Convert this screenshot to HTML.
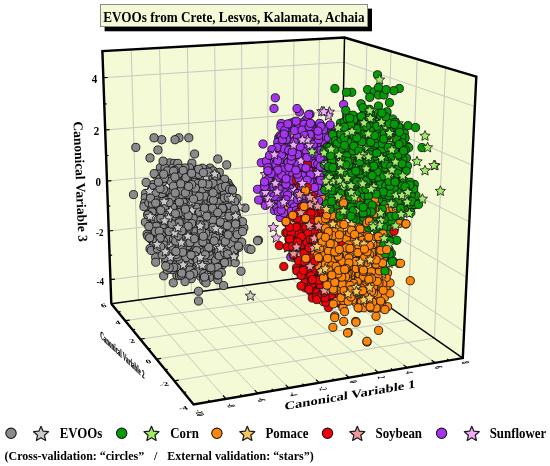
<!DOCTYPE html>
<html><head><meta charset="utf-8"><style>
html,body{margin:0;padding:0;background:#fff;}
svg{display:block;}
text{font-family:"Liberation Serif",serif;font-weight:bold;fill:#000;}
</style></head><body>
<svg width="550" height="466" viewBox="0 0 550 466">
<defs><path id="st" d="M0.00,-5.40 L1.47,-2.02 L5.14,-1.67 L2.38,0.77 L3.17,4.37 L0.00,2.50 L-3.17,4.37 L-2.38,0.77 L-5.14,-1.67 L-1.47,-2.02Z" stroke="#1a1a1a" stroke-width="0.85" stroke-linejoin="round"/></defs>
<rect x="104.6" y="8.6" width="267.4" height="22.7" fill="#000"/>
<rect x="100.5" y="4.5" width="267" height="22" fill="#f4f9d6" stroke="#8a8a8a" stroke-width="1"/>
<text transform="translate(103.2,21.8) scale(1,1.08)" font-size="13.2">EVOOs from Crete, Lesvos, Kalamata, Achaia</text>
<polygon points="102.4,51.1 344.5,37.5 340.1,272.5 111.3,303.7" fill="#f3fad5"/>
<polygon points="344.5,37.5 476.3,76.7 462.8,358.1 340.1,272.5" fill="#f3fad5"/>
<polygon points="111.3,303.7 340.1,272.5 462.8,358.1 193.6,404.5" fill="#f3fad5"/>
<g stroke="#c6c6bf" stroke-width="0.95"><line x1="138.5" y1="300.0" x2="131.2" y2="49.5" /><line x1="138.5" y1="300.0" x2="226.0" y2="398.9" /><line x1="165.2" y1="296.4" x2="159.5" y2="47.9" /><line x1="165.2" y1="296.4" x2="257.8" y2="393.4" /><line x1="191.4" y1="292.8" x2="187.4" y2="46.4" /><line x1="191.4" y1="292.8" x2="288.9" y2="388.0" /><line x1="217.3" y1="289.3" x2="214.7" y2="44.8" /><line x1="217.3" y1="289.3" x2="319.3" y2="382.8" /><line x1="242.7" y1="285.8" x2="241.6" y2="43.3" /><line x1="242.7" y1="285.8" x2="349.2" y2="377.7" /><line x1="267.6" y1="282.4" x2="268.0" y2="41.8" /><line x1="267.6" y1="282.4" x2="378.5" y2="372.6" /><line x1="292.2" y1="279.1" x2="293.9" y2="40.4" /><line x1="292.2" y1="279.1" x2="407.1" y2="367.7" /><line x1="316.4" y1="275.8" x2="319.4" y2="38.9" /><line x1="316.4" y1="275.8" x2="435.3" y2="362.8" /><line x1="110.5" y1="279.7" x2="340.6" y2="250.2" /><line x1="340.6" y1="250.2" x2="464.1" y2="331.5" /><line x1="108.7" y1="231.0" x2="341.4" y2="204.7" /><line x1="341.4" y1="204.7" x2="466.7" y2="277.4" /><line x1="107.0" y1="181.1" x2="342.2" y2="158.2" /><line x1="342.2" y1="158.2" x2="469.4" y2="221.9" /><line x1="105.1" y1="130.0" x2="343.1" y2="110.7" /><line x1="343.1" y1="110.7" x2="472.1" y2="165.0" /><line x1="103.3" y1="77.7" x2="344.0" y2="62.2" /><line x1="344.0" y1="62.2" x2="474.9" y2="106.5" /><line x1="361.2" y1="287.2" x2="366.9" y2="44.2" /><line x1="125.2" y1="320.7" x2="361.2" y2="287.2" /><line x1="383.8" y1="303.0" x2="391.0" y2="51.3" /><line x1="140.3" y1="339.2" x2="383.8" y2="303.0" /><line x1="408.1" y1="319.9" x2="417.1" y2="59.1" /><line x1="156.6" y1="359.1" x2="408.1" y2="319.9" /><line x1="434.4" y1="338.2" x2="445.5" y2="67.5" /><line x1="174.3" y1="380.8" x2="434.4" y2="338.2" /></g>
<g stroke="#000" stroke-width="1.5" stroke-linecap="round"><line x1="344.5" y1="37.5" x2="340.1" y2="272.5" /><line x1="111.3" y1="303.7" x2="340.1" y2="272.5" /><line x1="340.1" y1="272.5" x2="462.8" y2="358.1" /></g>
<polyline points="111.3,303.7 102.4,51.1 344.5,37.5 476.3,76.7 462.8,358.1 193.6,404.5 111.3,303.7" fill="none" stroke="#000" stroke-width="2.4" stroke-linejoin="miter"/>
<g stroke="#000" stroke-width="1.2"><line x1="110.5" y1="279.7" x2="114.9" y2="279.1" /><line x1="109.6" y1="255.5" x2="112.1" y2="255.2" /><line x1="108.7" y1="231.0" x2="113.2" y2="230.5" /><line x1="107.8" y1="206.2" x2="110.3" y2="205.9" /><line x1="107.0" y1="181.1" x2="111.4" y2="180.6" /><line x1="106.1" y1="155.7" x2="108.5" y2="155.5" /><line x1="105.1" y1="130.0" x2="109.6" y2="129.6" /><line x1="104.2" y1="104.0" x2="106.7" y2="103.8" /><line x1="103.3" y1="77.7" x2="107.8" y2="77.5" /><line x1="183.7" y1="392.4" x2="186.2" y2="392.0" /><line x1="174.3" y1="380.8" x2="178.7" y2="380.1" /><line x1="165.2" y1="369.7" x2="167.7" y2="369.3" /><line x1="156.6" y1="359.1" x2="161.0" y2="358.4" /><line x1="148.3" y1="348.9" x2="150.7" y2="348.6" /><line x1="140.3" y1="339.2" x2="144.7" y2="338.5" /><line x1="132.6" y1="329.8" x2="135.1" y2="329.4" /><line x1="125.2" y1="320.7" x2="129.7" y2="320.1" /><line x1="118.1" y1="312.1" x2="120.6" y2="311.7" /><line x1="209.9" y1="401.7" x2="208.3" y2="399.8" /><line x1="226.0" y1="398.9" x2="223.1" y2="395.5" /><line x1="242.0" y1="396.1" x2="240.3" y2="394.3" /><line x1="257.8" y1="393.4" x2="254.7" y2="390.1" /><line x1="273.4" y1="390.7" x2="271.7" y2="388.9" /><line x1="288.9" y1="388.0" x2="285.7" y2="384.9" /><line x1="304.2" y1="385.4" x2="302.4" y2="383.7" /><line x1="319.3" y1="382.8" x2="316.0" y2="379.8" /><line x1="334.4" y1="380.2" x2="332.5" y2="378.6" /><line x1="349.2" y1="377.7" x2="345.8" y2="374.7" /><line x1="363.9" y1="375.1" x2="362.0" y2="373.5" /><line x1="378.5" y1="372.6" x2="375.0" y2="369.8" /><line x1="392.9" y1="370.1" x2="390.9" y2="368.6" /><line x1="407.1" y1="367.7" x2="403.6" y2="364.9" /><line x1="421.3" y1="365.2" x2="419.3" y2="363.7" /><line x1="435.3" y1="362.8" x2="431.6" y2="360.2" /><line x1="449.1" y1="360.4" x2="447.1" y2="359.0" /></g>
<g stroke="#141414" stroke-width="0.9">
<circle cx="231.6" cy="231.0" r="4.1" fill="#8a8a8c"/><circle cx="329.2" cy="162.3" r="4.1" fill="#a434f0"/><circle cx="320.3" cy="197.7" r="4.1" fill="#a434f0"/><circle cx="233.6" cy="250.4" r="4.1" fill="#8a8a8c"/><circle cx="298.9" cy="123.1" r="4.1" fill="#a434f0"/><circle cx="231.6" cy="203.4" r="4.1" fill="#8a8a8c"/><circle cx="165.3" cy="202.2" r="4.1" fill="#8a8a8c"/><circle cx="199.5" cy="220.7" r="4.1" fill="#8a8a8c"/><circle cx="176.7" cy="212.9" r="4.1" fill="#8a8a8c"/><circle cx="172.3" cy="234.7" r="4.1" fill="#8a8a8c"/><circle cx="278.7" cy="137.8" r="4.1" fill="#a434f0"/><circle cx="198.7" cy="273.4" r="4.1" fill="#8a8a8c"/><circle cx="214.2" cy="269.9" r="4.1" fill="#8a8a8c"/><circle cx="229.7" cy="262.0" r="4.1" fill="#8a8a8c"/><circle cx="296.1" cy="197.3" r="4.1" fill="#a434f0"/><circle cx="171.9" cy="236.2" r="4.1" fill="#8a8a8c"/><circle cx="194.2" cy="169.2" r="4.1" fill="#8a8a8c"/><circle cx="327.5" cy="185.5" r="4.1" fill="#a434f0"/><circle cx="301.4" cy="148.2" r="4.1" fill="#a434f0"/><circle cx="275.6" cy="192.6" r="4.1" fill="#a434f0"/><circle cx="237.5" cy="233.0" r="4.1" fill="#8a8a8c"/><circle cx="133.5" cy="194.6" r="4.1" fill="#8a8a8c"/><circle cx="145.2" cy="203.3" r="4.1" fill="#8a8a8c"/><circle cx="287.2" cy="154.8" r="4.1" fill="#a434f0"/><circle cx="192.7" cy="243.1" r="4.1" fill="#8a8a8c"/><circle cx="291.5" cy="132.0" r="4.1" fill="#a434f0"/><circle cx="212.1" cy="223.9" r="4.1" fill="#8a8a8c"/><circle cx="278.7" cy="202.9" r="4.1" fill="#a434f0"/><circle cx="149.2" cy="217.4" r="4.1" fill="#8a8a8c"/><circle cx="293.7" cy="144.0" r="4.1" fill="#a434f0"/><circle cx="306.9" cy="121.2" r="4.1" fill="#a434f0"/><circle cx="191.5" cy="187.7" r="4.1" fill="#8a8a8c"/><circle cx="184.9" cy="176.4" r="4.1" fill="#8a8a8c"/><circle cx="234.3" cy="227.7" r="4.1" fill="#8a8a8c"/><circle cx="192.9" cy="230.2" r="4.1" fill="#8a8a8c"/><circle cx="313.3" cy="141.0" r="4.1" fill="#a434f0"/><circle cx="176.8" cy="267.6" r="4.1" fill="#8a8a8c"/><circle cx="181.4" cy="212.5" r="4.1" fill="#8a8a8c"/><circle cx="305.9" cy="119.9" r="4.1" fill="#a434f0"/><circle cx="245.0" cy="208.0" r="4.1" fill="#8a8a8c"/><circle cx="217.3" cy="232.3" r="4.1" fill="#8a8a8c"/><circle cx="210.0" cy="168.1" r="4.1" fill="#8a8a8c"/><circle cx="213.0" cy="178.2" r="4.1" fill="#8a8a8c"/><circle cx="278.9" cy="195.3" r="4.1" fill="#a434f0"/><circle cx="204.9" cy="206.0" r="4.1" fill="#8a8a8c"/><circle cx="276.5" cy="170.7" r="4.1" fill="#a434f0"/><circle cx="314.1" cy="141.5" r="4.1" fill="#a434f0"/><circle cx="187.9" cy="186.2" r="4.1" fill="#8a8a8c"/><circle cx="288.4" cy="159.8" r="4.1" fill="#a434f0"/><circle cx="284.1" cy="168.7" r="4.1" fill="#a434f0"/><circle cx="153.9" cy="206.3" r="4.1" fill="#8a8a8c"/><circle cx="196.3" cy="221.7" r="4.1" fill="#8a8a8c"/><circle cx="210.2" cy="234.3" r="4.1" fill="#8a8a8c"/><circle cx="231.0" cy="228.0" r="4.1" fill="#8a8a8c"/><circle cx="307.3" cy="127.3" r="4.1" fill="#a434f0"/><circle cx="151.5" cy="189.9" r="4.1" fill="#8a8a8c"/><circle cx="219.6" cy="230.3" r="4.1" fill="#8a8a8c"/><circle cx="213.7" cy="249.8" r="4.1" fill="#8a8a8c"/><circle cx="299.6" cy="170.3" r="4.1" fill="#a434f0"/><circle cx="301.0" cy="209.3" r="4.1" fill="#a434f0"/><circle cx="209.6" cy="273.4" r="4.1" fill="#8a8a8c"/><circle cx="330.9" cy="129.3" r="4.1" fill="#a434f0"/><circle cx="234.7" cy="251.6" r="4.1" fill="#8a8a8c"/><circle cx="165.5" cy="199.1" r="4.1" fill="#8a8a8c"/><circle cx="293.7" cy="188.0" r="4.1" fill="#f00008"/><circle cx="292.3" cy="194.2" r="4.1" fill="#a434f0"/><circle cx="234.0" cy="255.5" r="4.1" fill="#8a8a8c"/><circle cx="269.9" cy="197.9" r="4.1" fill="#a434f0"/><circle cx="275.3" cy="97.8" r="4.1" fill="#a434f0"/><circle cx="269.6" cy="162.2" r="4.1" fill="#a434f0"/><circle cx="193.2" cy="228.5" r="4.1" fill="#8a8a8c"/><circle cx="155.6" cy="240.0" r="4.1" fill="#8a8a8c"/><circle cx="233.7" cy="245.6" r="4.1" fill="#8a8a8c"/><circle cx="330.3" cy="155.1" r="4.1" fill="#a434f0"/><circle cx="273.0" cy="180.8" r="4.1" fill="#a434f0"/><circle cx="188.8" cy="199.7" r="4.1" fill="#8a8a8c"/><circle cx="203.9" cy="226.5" r="4.1" fill="#8a8a8c"/><circle cx="170.4" cy="264.4" r="4.1" fill="#8a8a8c"/><circle cx="154.3" cy="235.8" r="4.1" fill="#8a8a8c"/><circle cx="172.5" cy="192.3" r="4.1" fill="#8a8a8c"/><circle cx="301.0" cy="134.0" r="4.1" fill="#a434f0"/><circle cx="150.8" cy="239.0" r="4.1" fill="#8a8a8c"/><circle cx="211.6" cy="258.3" r="4.1" fill="#8a8a8c"/><circle cx="313.4" cy="139.9" r="4.1" fill="#a434f0"/><circle cx="181.5" cy="215.0" r="4.1" fill="#8a8a8c"/><circle cx="277.8" cy="199.6" r="4.1" fill="#a434f0"/><circle cx="165.3" cy="246.3" r="4.1" fill="#8a8a8c"/><circle cx="181.4" cy="272.5" r="4.1" fill="#8a8a8c"/><circle cx="300.9" cy="156.4" r="4.1" fill="#a434f0"/><circle cx="316.9" cy="197.4" r="4.1" fill="#f00008"/><circle cx="188.5" cy="266.1" r="4.1" fill="#8a8a8c"/><circle cx="283.1" cy="174.0" r="4.1" fill="#a434f0"/><circle cx="184.1" cy="256.8" r="4.1" fill="#8a8a8c"/><circle cx="216.0" cy="230.3" r="4.1" fill="#8a8a8c"/><circle cx="326.7" cy="175.5" r="4.1" fill="#a434f0"/><circle cx="270.4" cy="162.3" r="4.1" fill="#a434f0"/><circle cx="273.1" cy="175.8" r="4.1" fill="#a434f0"/><circle cx="281.2" cy="123.5" r="4.1" fill="#a434f0"/><circle cx="203.6" cy="249.8" r="4.1" fill="#8a8a8c"/><circle cx="221.4" cy="261.0" r="4.1" fill="#8a8a8c"/><circle cx="324.3" cy="157.9" r="4.1" fill="#a434f0"/><circle cx="283.6" cy="151.1" r="4.1" fill="#a434f0"/><circle cx="296.4" cy="146.1" r="4.1" fill="#a434f0"/><circle cx="277.6" cy="179.1" r="4.1" fill="#a434f0"/><circle cx="207.4" cy="261.4" r="4.1" fill="#8a8a8c"/><circle cx="183.1" cy="246.6" r="4.1" fill="#8a8a8c"/><circle cx="212.6" cy="232.6" r="4.1" fill="#8a8a8c"/><circle cx="177.8" cy="221.4" r="4.1" fill="#8a8a8c"/><circle cx="215.9" cy="218.5" r="4.1" fill="#8a8a8c"/><circle cx="223.1" cy="229.9" r="4.1" fill="#8a8a8c"/><circle cx="215.4" cy="239.0" r="4.1" fill="#8a8a8c"/><circle cx="238.2" cy="228.7" r="4.1" fill="#8a8a8c"/><circle cx="185.4" cy="172.0" r="4.1" fill="#8a8a8c"/><circle cx="320.1" cy="256.6" r="4.1" fill="#f00008"/><circle cx="212.2" cy="217.5" r="4.1" fill="#8a8a8c"/><circle cx="312.8" cy="181.5" r="4.1" fill="#a434f0"/><circle cx="214.6" cy="251.5" r="4.1" fill="#8a8a8c"/><circle cx="325.0" cy="188.7" r="4.1" fill="#a434f0"/><circle cx="315.8" cy="141.1" r="4.1" fill="#a434f0"/><circle cx="262.6" cy="200.7" r="4.1" fill="#a434f0"/><circle cx="194.0" cy="246.5" r="4.1" fill="#8a8a8c"/><circle cx="151.7" cy="197.3" r="4.1" fill="#8a8a8c"/><circle cx="203.3" cy="201.1" r="4.1" fill="#8a8a8c"/><circle cx="152.1" cy="205.1" r="4.1" fill="#8a8a8c"/><circle cx="207.9" cy="223.7" r="4.1" fill="#8a8a8c"/><circle cx="224.3" cy="211.3" r="4.1" fill="#8a8a8c"/><circle cx="192.9" cy="265.3" r="4.1" fill="#8a8a8c"/><circle cx="325.9" cy="135.4" r="4.1" fill="#a434f0"/><circle cx="160.3" cy="201.1" r="4.1" fill="#8a8a8c"/><circle cx="337.5" cy="259.3" r="4.1" fill="#f00008"/><circle cx="178.4" cy="198.7" r="4.1" fill="#8a8a8c"/><circle cx="154.3" cy="222.0" r="4.1" fill="#8a8a8c"/><circle cx="151.5" cy="194.2" r="4.1" fill="#8a8a8c"/><circle cx="298.8" cy="174.7" r="4.1" fill="#a434f0"/><circle cx="161.7" cy="139.7" r="4.1" fill="#8a8a8c"/><circle cx="347.6" cy="261.7" r="4.1" fill="#f00008"/><circle cx="179.0" cy="137.8" r="4.1" fill="#8a8a8c"/><circle cx="343.6" cy="104.5" r="4.1" fill="#a434f0"/><circle cx="181.7" cy="250.3" r="4.1" fill="#8a8a8c"/><circle cx="156.6" cy="216.0" r="4.1" fill="#8a8a8c"/><circle cx="195.5" cy="231.7" r="4.1" fill="#8a8a8c"/><circle cx="292.5" cy="146.4" r="4.1" fill="#a434f0"/><circle cx="224.3" cy="210.0" r="4.1" fill="#8a8a8c"/><circle cx="182.4" cy="198.1" r="4.1" fill="#8a8a8c"/><circle cx="282.0" cy="208.5" r="4.1" fill="#a434f0"/><circle cx="339.6" cy="253.1" r="4.1" fill="#f00008"/><circle cx="285.6" cy="145.1" r="4.1" fill="#a434f0"/><circle cx="319.4" cy="177.5" r="4.1" fill="#a434f0"/><circle cx="228.0" cy="183.0" r="4.1" fill="#8a8a8c"/><circle cx="284.3" cy="177.8" r="4.1" fill="#f00008"/><circle cx="308.4" cy="162.5" r="4.1" fill="#a434f0"/><circle cx="267.9" cy="199.5" r="4.1" fill="#a434f0"/><circle cx="225.3" cy="200.9" r="4.1" fill="#8a8a8c"/><circle cx="291.1" cy="123.1" r="4.1" fill="#a434f0"/><circle cx="342.5" cy="233.5" r="4.1" fill="#f00008"/><circle cx="180.6" cy="206.6" r="4.1" fill="#8a8a8c"/><circle cx="199.9" cy="220.8" r="4.1" fill="#8a8a8c"/><circle cx="341.6" cy="258.0" r="4.1" fill="#f00008"/><circle cx="269.7" cy="184.4" r="4.1" fill="#a434f0"/><circle cx="174.0" cy="182.7" r="4.1" fill="#8a8a8c"/><circle cx="203.9" cy="260.3" r="4.1" fill="#8a8a8c"/><circle cx="207.0" cy="199.0" r="4.1" fill="#8a8a8c"/><circle cx="290.6" cy="207.3" r="4.1" fill="#a434f0"/><circle cx="332.0" cy="133.7" r="4.1" fill="#a434f0"/><circle cx="264.1" cy="186.2" r="4.1" fill="#a434f0"/><circle cx="185.5" cy="222.2" r="4.1" fill="#8a8a8c"/><circle cx="191.9" cy="163.2" r="4.1" fill="#8a8a8c"/><circle cx="170.3" cy="192.8" r="4.1" fill="#8a8a8c"/><circle cx="281.9" cy="192.0" r="4.1" fill="#a434f0"/><circle cx="208.2" cy="193.8" r="4.1" fill="#8a8a8c"/><circle cx="203.0" cy="174.8" r="4.1" fill="#8a8a8c"/><circle cx="194.0" cy="211.0" r="4.1" fill="#8a8a8c"/><circle cx="286.5" cy="203.4" r="4.1" fill="#a434f0"/><circle cx="378.0" cy="245.5" r="4.1" fill="#f00008"/><circle cx="218.7" cy="191.1" r="4.1" fill="#8a8a8c"/><circle cx="192.2" cy="269.3" r="4.1" fill="#8a8a8c"/><circle cx="217.8" cy="279.7" r="4.1" fill="#8a8a8c"/><circle cx="239.0" cy="247.3" r="4.1" fill="#8a8a8c"/><circle cx="312.3" cy="165.8" r="4.1" fill="#f00008"/><circle cx="306.1" cy="131.7" r="4.1" fill="#a434f0"/><circle cx="272.5" cy="191.7" r="4.1" fill="#a434f0"/><circle cx="157.9" cy="222.0" r="4.1" fill="#8a8a8c"/><circle cx="280.1" cy="135.7" r="4.1" fill="#a434f0"/><circle cx="183.2" cy="188.8" r="4.1" fill="#8a8a8c"/><circle cx="287.4" cy="208.8" r="4.1" fill="#f00008"/><circle cx="153.7" cy="245.2" r="4.1" fill="#8a8a8c"/><circle cx="297.8" cy="196.4" r="4.1" fill="#f00008"/><circle cx="200.2" cy="267.9" r="4.1" fill="#8a8a8c"/><circle cx="198.5" cy="291.3" r="4.1" fill="#8a8a8c"/><circle cx="200.5" cy="276.3" r="4.1" fill="#8a8a8c"/><circle cx="165.5" cy="174.7" r="4.1" fill="#8a8a8c"/><circle cx="181.0" cy="222.1" r="4.1" fill="#8a8a8c"/><circle cx="203.9" cy="192.2" r="4.1" fill="#8a8a8c"/><circle cx="329.6" cy="125.7" r="4.1" fill="#a434f0"/><circle cx="322.5" cy="148.7" r="4.1" fill="#a434f0"/><circle cx="226.7" cy="164.8" r="4.1" fill="#8a8a8c"/><circle cx="297.7" cy="162.9" r="4.1" fill="#a434f0"/><circle cx="200.7" cy="273.2" r="4.1" fill="#8a8a8c"/><circle cx="275.0" cy="172.2" r="4.1" fill="#a434f0"/><circle cx="155.0" cy="198.7" r="4.1" fill="#8a8a8c"/><circle cx="297.0" cy="200.8" r="4.1" fill="#a434f0"/><circle cx="210.9" cy="186.9" r="4.1" fill="#8a8a8c"/><circle cx="207.0" cy="203.2" r="4.1" fill="#8a8a8c"/><circle cx="184.4" cy="180.8" r="4.1" fill="#8a8a8c"/><circle cx="291.9" cy="183.3" r="4.1" fill="#a434f0"/><circle cx="288.2" cy="125.2" r="4.1" fill="#a434f0"/><circle cx="311.5" cy="160.8" r="4.1" fill="#a434f0"/><circle cx="299.5" cy="202.9" r="4.1" fill="#a434f0"/><circle cx="149.4" cy="202.7" r="4.1" fill="#8a8a8c"/><circle cx="190.2" cy="252.3" r="4.1" fill="#8a8a8c"/><circle cx="321.5" cy="165.1" r="4.1" fill="#a434f0"/><circle cx="292.3" cy="134.7" r="4.1" fill="#a434f0"/><circle cx="270.4" cy="197.8" r="4.1" fill="#a434f0"/><circle cx="157.3" cy="191.2" r="4.1" fill="#8a8a8c"/><circle cx="298.1" cy="183.4" r="4.1" fill="#a434f0"/><circle cx="298.1" cy="180.6" r="4.1" fill="#a434f0"/><circle cx="319.1" cy="142.7" r="4.1" fill="#a434f0"/><circle cx="220.0" cy="240.7" r="4.1" fill="#8a8a8c"/><circle cx="293.0" cy="124.3" r="4.1" fill="#a434f0"/><circle cx="180.7" cy="174.3" r="4.1" fill="#8a8a8c"/><circle cx="293.7" cy="164.9" r="4.1" fill="#a434f0"/><circle cx="149.9" cy="208.4" r="4.1" fill="#8a8a8c"/><circle cx="177.1" cy="243.1" r="4.1" fill="#8a8a8c"/><circle cx="165.7" cy="261.1" r="4.1" fill="#8a8a8c"/><circle cx="203.0" cy="202.3" r="4.1" fill="#8a8a8c"/><circle cx="327.5" cy="183.6" r="4.1" fill="#a434f0"/><circle cx="290.6" cy="188.6" r="4.1" fill="#f00008"/><circle cx="183.4" cy="246.7" r="4.1" fill="#8a8a8c"/><circle cx="194.8" cy="177.4" r="4.1" fill="#8a8a8c"/><circle cx="293.0" cy="160.5" r="4.1" fill="#a434f0"/><circle cx="188.0" cy="230.0" r="4.1" fill="#8a8a8c"/><circle cx="190.0" cy="203.9" r="4.1" fill="#8a8a8c"/><circle cx="174.6" cy="202.2" r="4.1" fill="#8a8a8c"/><circle cx="235.2" cy="262.7" r="4.1" fill="#8a8a8c"/><circle cx="258.4" cy="240.2" r="4.1" fill="#8a8a8c"/><circle cx="236.5" cy="237.2" r="4.1" fill="#8a8a8c"/><circle cx="287.5" cy="187.1" r="4.1" fill="#f00008"/><circle cx="266.2" cy="181.6" r="4.1" fill="#a434f0"/><circle cx="189.5" cy="167.9" r="4.1" fill="#8a8a8c"/><circle cx="190.6" cy="192.2" r="4.1" fill="#8a8a8c"/><circle cx="186.1" cy="231.8" r="4.1" fill="#8a8a8c"/><circle cx="193.4" cy="205.2" r="4.1" fill="#8a8a8c"/><circle cx="155.5" cy="175.0" r="4.1" fill="#8a8a8c"/><circle cx="243.8" cy="227.8" r="4.1" fill="#8a8a8c"/><circle cx="177.9" cy="243.8" r="4.1" fill="#8a8a8c"/><circle cx="151.9" cy="207.6" r="4.1" fill="#8a8a8c"/><circle cx="331.4" cy="178.9" r="4.1" fill="#a434f0"/><circle cx="315.5" cy="135.2" r="4.1" fill="#a434f0"/><circle cx="202.1" cy="176.7" r="4.1" fill="#8a8a8c"/><circle cx="166.2" cy="207.5" r="4.1" fill="#8a8a8c"/><circle cx="199.9" cy="244.5" r="4.1" fill="#8a8a8c"/><circle cx="153.2" cy="241.2" r="4.1" fill="#8a8a8c"/><circle cx="216.5" cy="176.6" r="4.1" fill="#8a8a8c"/><circle cx="304.4" cy="176.6" r="4.1" fill="#a434f0"/><circle cx="177.0" cy="216.6" r="4.1" fill="#8a8a8c"/><circle cx="345.2" cy="214.9" r="4.1" fill="#f00008"/><circle cx="330.2" cy="124.9" r="4.1" fill="#a434f0"/><circle cx="317.4" cy="149.6" r="4.1" fill="#a434f0"/><circle cx="198.5" cy="301.0" r="4.1" fill="#8a8a8c"/><circle cx="305.7" cy="159.2" r="4.1" fill="#a434f0"/><circle cx="355.5" cy="272.7" r="4.1" fill="#f00008"/><circle cx="169.8" cy="263.8" r="4.1" fill="#8a8a8c"/><circle cx="150.0" cy="157.9" r="4.1" fill="#8a8a8c"/><circle cx="205.5" cy="265.3" r="4.1" fill="#8a8a8c"/><circle cx="278.1" cy="196.8" r="4.1" fill="#a434f0"/><circle cx="170.0" cy="239.3" r="4.1" fill="#8a8a8c"/><circle cx="173.2" cy="207.1" r="4.1" fill="#8a8a8c"/><circle cx="285.4" cy="175.0" r="4.1" fill="#a434f0"/><circle cx="320.4" cy="124.6" r="4.1" fill="#a434f0"/><circle cx="157.9" cy="201.4" r="4.1" fill="#8a8a8c"/><circle cx="208.8" cy="243.5" r="4.1" fill="#8a8a8c"/><circle cx="303.6" cy="194.4" r="4.1" fill="#a434f0"/><circle cx="169.7" cy="162.9" r="4.1" fill="#8a8a8c"/><circle cx="145.6" cy="193.4" r="4.1" fill="#8a8a8c"/><circle cx="166.3" cy="245.5" r="4.1" fill="#8a8a8c"/><circle cx="315.4" cy="153.8" r="4.1" fill="#a434f0"/><circle cx="160.4" cy="172.3" r="4.1" fill="#8a8a8c"/><circle cx="305.8" cy="137.6" r="4.1" fill="#a434f0"/><circle cx="235.9" cy="241.3" r="4.1" fill="#8a8a8c"/><circle cx="226.0" cy="255.5" r="4.1" fill="#8a8a8c"/><circle cx="200.0" cy="206.1" r="4.1" fill="#8a8a8c"/><circle cx="316.5" cy="235.7" r="4.1" fill="#f00008"/><circle cx="163.7" cy="275.8" r="4.1" fill="#8a8a8c"/><circle cx="316.7" cy="290.8" r="4.1" fill="#f00008"/><circle cx="343.3" cy="227.5" r="4.1" fill="#f00008"/><circle cx="312.7" cy="282.4" r="4.1" fill="#f00008"/><circle cx="296.6" cy="184.7" r="4.1" fill="#a434f0"/><circle cx="316.6" cy="129.6" r="4.1" fill="#a434f0"/><circle cx="290.6" cy="227.6" r="4.1" fill="#f00008"/><circle cx="310.1" cy="288.7" r="4.1" fill="#f00008"/><circle cx="148.3" cy="200.6" r="4.1" fill="#8a8a8c"/><circle cx="300.6" cy="251.5" r="4.1" fill="#f00008"/><circle cx="160.1" cy="200.4" r="4.1" fill="#8a8a8c"/><circle cx="364.5" cy="250.5" r="4.1" fill="#f00008"/><circle cx="177.8" cy="264.6" r="4.1" fill="#8a8a8c"/><circle cx="334.3" cy="150.7" r="4.1" fill="#a434f0"/><circle cx="318.0" cy="227.9" r="4.1" fill="#f00008"/><circle cx="317.2" cy="130.0" r="4.1" fill="#a434f0"/><circle cx="153.4" cy="184.6" r="4.1" fill="#8a8a8c"/><circle cx="155.7" cy="257.2" r="4.1" fill="#8a8a8c"/><circle cx="312.4" cy="200.8" r="4.1" fill="#a434f0"/><circle cx="301.5" cy="267.6" r="4.1" fill="#f00008"/><circle cx="304.1" cy="152.2" r="4.1" fill="#a434f0"/><circle cx="177.8" cy="198.6" r="4.1" fill="#8a8a8c"/><circle cx="221.4" cy="213.0" r="4.1" fill="#8a8a8c"/><circle cx="227.4" cy="247.8" r="4.1" fill="#8a8a8c"/><circle cx="292.7" cy="180.7" r="4.1" fill="#f00008"/><circle cx="318.1" cy="183.3" r="4.1" fill="#a434f0"/><circle cx="189.4" cy="263.7" r="4.1" fill="#8a8a8c"/><circle cx="156.6" cy="219.9" r="4.1" fill="#8a8a8c"/><circle cx="312.6" cy="268.6" r="4.1" fill="#f00008"/><circle cx="220.4" cy="236.1" r="4.1" fill="#8a8a8c"/><circle cx="160.4" cy="167.7" r="4.1" fill="#8a8a8c"/><circle cx="257.5" cy="189.3" r="4.1" fill="#a434f0"/><circle cx="337.2" cy="289.8" r="4.1" fill="#f00008"/><circle cx="301.6" cy="159.5" r="4.1" fill="#a434f0"/><circle cx="237.0" cy="198.5" r="4.1" fill="#8a8a8c"/><circle cx="330.6" cy="146.4" r="4.1" fill="#a434f0"/><circle cx="309.5" cy="162.3" r="4.1" fill="#a434f0"/><circle cx="223.6" cy="285.5" r="4.1" fill="#8a8a8c"/><circle cx="168.4" cy="199.7" r="4.1" fill="#8a8a8c"/><circle cx="314.4" cy="288.6" r="4.1" fill="#f00008"/><circle cx="217.0" cy="198.4" r="4.1" fill="#8a8a8c"/><circle cx="304.8" cy="170.7" r="4.1" fill="#f00008"/><circle cx="198.8" cy="199.9" r="4.1" fill="#8a8a8c"/><circle cx="281.3" cy="136.6" r="4.1" fill="#a434f0"/><circle cx="193.1" cy="217.9" r="4.1" fill="#8a8a8c"/><circle cx="273.8" cy="161.4" r="4.1" fill="#a434f0"/><circle cx="291.3" cy="142.3" r="4.1" fill="#a434f0"/><circle cx="186.7" cy="249.9" r="4.1" fill="#8a8a8c"/><circle cx="274.4" cy="210.5" r="4.1" fill="#a434f0"/><circle cx="224.6" cy="179.2" r="4.1" fill="#8a8a8c"/><circle cx="176.9" cy="275.3" r="4.1" fill="#8a8a8c"/><circle cx="376.3" cy="273.5" r="4.1" fill="#f00008"/><circle cx="190.3" cy="192.0" r="4.1" fill="#8a8a8c"/><circle cx="231.9" cy="194.2" r="4.1" fill="#8a8a8c"/><circle cx="153.7" cy="215.3" r="4.1" fill="#8a8a8c"/><circle cx="147.0" cy="202.0" r="4.1" fill="#8a8a8c"/><circle cx="320.3" cy="286.1" r="4.1" fill="#f00008"/><circle cx="280.6" cy="186.4" r="4.1" fill="#a434f0"/><circle cx="156.1" cy="196.9" r="4.1" fill="#8a8a8c"/><circle cx="319.5" cy="145.8" r="4.1" fill="#a434f0"/><circle cx="219.2" cy="202.3" r="4.1" fill="#8a8a8c"/><circle cx="149.7" cy="232.5" r="4.1" fill="#8a8a8c"/><circle cx="182.7" cy="195.3" r="4.1" fill="#8a8a8c"/><circle cx="273.7" cy="187.2" r="4.1" fill="#a434f0"/><circle cx="145.3" cy="197.8" r="4.1" fill="#8a8a8c"/><circle cx="313.7" cy="289.7" r="4.1" fill="#f00008"/><circle cx="364.6" cy="257.6" r="4.1" fill="#f00008"/><circle cx="279.9" cy="156.2" r="4.1" fill="#a434f0"/><circle cx="145.4" cy="222.1" r="4.1" fill="#8a8a8c"/><circle cx="347.9" cy="227.7" r="4.1" fill="#f00008"/><circle cx="279.6" cy="151.6" r="4.1" fill="#a434f0"/><circle cx="321.5" cy="177.6" r="4.1" fill="#a434f0"/><circle cx="144.5" cy="203.3" r="4.1" fill="#8a8a8c"/><circle cx="319.1" cy="221.9" r="4.1" fill="#f00008"/><circle cx="305.1" cy="192.5" r="4.1" fill="#f00008"/><circle cx="187.6" cy="245.7" r="4.1" fill="#8a8a8c"/><circle cx="165.2" cy="190.8" r="4.1" fill="#8a8a8c"/><circle cx="223.4" cy="237.1" r="4.1" fill="#8a8a8c"/><circle cx="157.8" cy="213.8" r="4.1" fill="#8a8a8c"/><circle cx="287.9" cy="172.0" r="4.1" fill="#a434f0"/><circle cx="210.4" cy="221.0" r="4.1" fill="#8a8a8c"/><circle cx="219.4" cy="183.8" r="4.1" fill="#8a8a8c"/><circle cx="290.0" cy="198.3" r="4.1" fill="#a434f0"/><circle cx="162.5" cy="182.0" r="4.1" fill="#8a8a8c"/><circle cx="331.0" cy="156.5" r="4.1" fill="#a434f0"/><circle cx="269.2" cy="163.2" r="4.1" fill="#a434f0"/><circle cx="213.0" cy="183.2" r="4.1" fill="#8a8a8c"/><circle cx="330.0" cy="301.9" r="4.1" fill="#f00008"/><circle cx="302.2" cy="209.7" r="4.1" fill="#f00008"/><circle cx="302.8" cy="237.2" r="4.1" fill="#f00008"/><circle cx="214.9" cy="272.2" r="4.1" fill="#8a8a8c"/><circle cx="310.2" cy="193.8" r="4.1" fill="#a434f0"/><circle cx="153.9" cy="218.8" r="4.1" fill="#8a8a8c"/><circle cx="325.2" cy="159.3" r="4.1" fill="#a434f0"/><circle cx="204.7" cy="196.1" r="4.1" fill="#8a8a8c"/><circle cx="322.4" cy="191.1" r="4.1" fill="#a434f0"/><circle cx="216.9" cy="193.9" r="4.1" fill="#8a8a8c"/><circle cx="179.5" cy="275.7" r="4.1" fill="#8a8a8c"/><circle cx="316.2" cy="194.9" r="4.1" fill="#a434f0"/><circle cx="311.6" cy="260.1" r="4.1" fill="#f00008"/><circle cx="155.7" cy="262.2" r="4.1" fill="#8a8a8c"/><circle cx="196.1" cy="192.3" r="4.1" fill="#8a8a8c"/><circle cx="322.7" cy="176.3" r="4.1" fill="#a434f0"/><circle cx="167.7" cy="200.4" r="4.1" fill="#8a8a8c"/><circle cx="321.9" cy="189.2" r="4.1" fill="#a434f0"/><circle cx="332.1" cy="292.3" r="4.1" fill="#f00008"/><circle cx="331.2" cy="298.6" r="4.1" fill="#f00008"/><circle cx="313.1" cy="167.3" r="4.1" fill="#f00008"/><circle cx="310.9" cy="124.9" r="4.1" fill="#a434f0"/><circle cx="202.3" cy="188.9" r="4.1" fill="#8a8a8c"/><circle cx="165.4" cy="257.5" r="4.1" fill="#8a8a8c"/><circle cx="210.2" cy="255.4" r="4.1" fill="#8a8a8c"/><circle cx="179.5" cy="246.5" r="4.1" fill="#8a8a8c"/><circle cx="223.9" cy="256.2" r="4.1" fill="#8a8a8c"/><circle cx="297.3" cy="235.6" r="4.1" fill="#f00008"/><circle cx="318.3" cy="189.1" r="4.1" fill="#a434f0"/><circle cx="214.8" cy="195.0" r="4.1" fill="#8a8a8c"/><circle cx="338.8" cy="243.5" r="4.1" fill="#f00008"/><circle cx="307.2" cy="263.7" r="4.1" fill="#f00008"/><circle cx="223.6" cy="192.0" r="4.1" fill="#8a8a8c"/><circle cx="170.3" cy="241.8" r="4.1" fill="#8a8a8c"/><circle cx="170.7" cy="179.2" r="4.1" fill="#8a8a8c"/><circle cx="230.6" cy="226.0" r="4.1" fill="#8a8a8c"/><circle cx="304.5" cy="246.9" r="4.1" fill="#f00008"/><circle cx="188.8" cy="137.8" r="4.1" fill="#8a8a8c"/><circle cx="200.9" cy="180.1" r="4.1" fill="#8a8a8c"/><circle cx="313.4" cy="174.6" r="4.1" fill="#a434f0"/><circle cx="321.5" cy="277.7" r="4.1" fill="#f00008"/><circle cx="306.2" cy="223.3" r="4.1" fill="#f00008"/><circle cx="143.9" cy="206.6" r="4.1" fill="#8a8a8c"/><circle cx="236.1" cy="215.4" r="4.1" fill="#8a8a8c"/><circle cx="229.4" cy="186.0" r="4.1" fill="#8a8a8c"/><circle cx="220.8" cy="226.0" r="4.1" fill="#8a8a8c"/><circle cx="349.6" cy="237.5" r="4.1" fill="#f00008"/><circle cx="174.2" cy="163.4" r="4.1" fill="#8a8a8c"/><circle cx="207.4" cy="186.5" r="4.1" fill="#8a8a8c"/><circle cx="172.6" cy="168.2" r="4.1" fill="#8a8a8c"/><circle cx="231.1" cy="243.8" r="4.1" fill="#8a8a8c"/><circle cx="234.1" cy="250.0" r="4.1" fill="#8a8a8c"/><circle cx="328.3" cy="174.4" r="4.1" fill="#a434f0"/><circle cx="351.9" cy="272.7" r="4.1" fill="#f00008"/><circle cx="161.7" cy="178.9" r="4.1" fill="#8a8a8c"/><circle cx="188.6" cy="264.6" r="4.1" fill="#8a8a8c"/><circle cx="166.2" cy="233.3" r="4.1" fill="#8a8a8c"/><circle cx="182.2" cy="248.0" r="4.1" fill="#8a8a8c"/><circle cx="135.8" cy="147.4" r="4.1" fill="#8a8a8c"/><circle cx="196.7" cy="207.2" r="4.1" fill="#8a8a8c"/><circle cx="294.1" cy="154.4" r="4.1" fill="#a434f0"/><circle cx="299.2" cy="209.0" r="4.1" fill="#a434f0"/><circle cx="153.9" cy="244.9" r="4.1" fill="#8a8a8c"/><circle cx="184.1" cy="179.7" r="4.1" fill="#8a8a8c"/><circle cx="235.4" cy="231.0" r="4.1" fill="#8a8a8c"/><circle cx="205.3" cy="169.8" r="4.1" fill="#8a8a8c"/><circle cx="179.0" cy="265.8" r="4.1" fill="#8a8a8c"/><circle cx="287.0" cy="208.9" r="4.1" fill="#ff860a"/><circle cx="292.4" cy="227.6" r="4.1" fill="#f00008"/><circle cx="280.0" cy="193.9" r="4.1" fill="#a434f0"/><circle cx="219.3" cy="172.4" r="4.1" fill="#8a8a8c"/><circle cx="341.3" cy="303.4" r="4.1" fill="#f00008"/><circle cx="294.5" cy="238.1" r="4.1" fill="#f00008"/><circle cx="274.0" cy="108.5" r="4.1" fill="#a434f0"/><circle cx="263.9" cy="192.8" r="4.1" fill="#a434f0"/><circle cx="293.2" cy="142.3" r="4.1" fill="#a434f0"/><circle cx="302.2" cy="255.5" r="4.1" fill="#f00008"/><circle cx="215.8" cy="260.2" r="4.1" fill="#8a8a8c"/><circle cx="278.0" cy="177.5" r="4.1" fill="#a434f0"/><circle cx="318.8" cy="168.9" r="4.1" fill="#a434f0"/><circle cx="171.4" cy="217.4" r="4.1" fill="#8a8a8c"/><circle cx="222.4" cy="264.9" r="4.1" fill="#8a8a8c"/><circle cx="194.6" cy="154.0" r="4.1" fill="#8a8a8c"/><circle cx="192.5" cy="242.9" r="4.1" fill="#8a8a8c"/><circle cx="316.7" cy="267.3" r="4.1" fill="#f00008"/><circle cx="330.0" cy="295.4" r="4.1" fill="#f00008"/><circle cx="208.5" cy="232.2" r="4.1" fill="#8a8a8c"/><circle cx="330.1" cy="172.4" r="4.1" fill="#a434f0"/><circle cx="315.4" cy="164.5" r="4.1" fill="#a434f0"/><circle cx="223.6" cy="222.7" r="4.1" fill="#8a8a8c"/><circle cx="282.4" cy="165.0" r="4.1" fill="#a434f0"/><circle cx="290.8" cy="257.0" r="4.1" fill="#a434f0"/><circle cx="176.3" cy="186.9" r="4.1" fill="#8a8a8c"/><circle cx="155.0" cy="195.5" r="4.1" fill="#8a8a8c"/><circle cx="176.4" cy="259.5" r="4.1" fill="#8a8a8c"/><circle cx="290.4" cy="218.1" r="4.1" fill="#f00008"/><circle cx="273.7" cy="150.5" r="4.1" fill="#a434f0"/><circle cx="290.0" cy="203.5" r="4.1" fill="#a434f0"/><circle cx="276.1" cy="165.6" r="4.1" fill="#a434f0"/><circle cx="321.4" cy="289.2" r="4.1" fill="#f00008"/><circle cx="218.7" cy="188.8" r="4.1" fill="#8a8a8c"/><circle cx="200.5" cy="235.1" r="4.1" fill="#8a8a8c"/><circle cx="287.5" cy="136.7" r="4.1" fill="#a434f0"/><circle cx="248.7" cy="248.7" r="4.1" fill="#8a8a8c"/><circle cx="205.5" cy="211.4" r="4.1" fill="#8a8a8c"/><circle cx="313.4" cy="241.9" r="4.1" fill="#f00008"/><circle cx="161.9" cy="193.5" r="4.1" fill="#8a8a8c"/><circle cx="292.8" cy="158.1" r="4.1" fill="#a434f0"/><circle cx="235.8" cy="213.4" r="4.1" fill="#8a8a8c"/><circle cx="314.4" cy="148.9" r="4.1" fill="#a434f0"/><circle cx="293.6" cy="240.9" r="4.1" fill="#f00008"/><circle cx="281.9" cy="159.3" r="4.1" fill="#a434f0"/><use href="#st" x="329.4" y="112.0" fill="#f0aaf8"/><circle cx="204.8" cy="225.2" r="4.1" fill="#8a8a8c"/><circle cx="309.5" cy="287.9" r="4.1" fill="#f00008"/><circle cx="316.5" cy="189.1" r="4.1" fill="#f00008"/><circle cx="285.8" cy="232.7" r="4.1" fill="#f00008"/><circle cx="191.3" cy="278.7" r="4.1" fill="#8a8a8c"/><circle cx="313.6" cy="214.4" r="4.1" fill="#f00008"/><circle cx="277.7" cy="142.3" r="4.1" fill="#a434f0"/><circle cx="342.8" cy="250.3" r="4.1" fill="#f00008"/><circle cx="159.1" cy="174.1" r="4.1" fill="#8a8a8c"/><circle cx="321.2" cy="220.6" r="4.1" fill="#ff860a"/><use href="#st" x="286.2" y="159.2" fill="#f0aaf8"/><circle cx="299.4" cy="112.0" r="4.1" fill="#a434f0"/><circle cx="219.2" cy="233.0" r="4.1" fill="#8a8a8c"/><circle cx="303.0" cy="167.5" r="4.1" fill="#a434f0"/><circle cx="237.7" cy="219.0" r="4.1" fill="#8a8a8c"/><use href="#st" x="187.2" y="269.2" fill="#cacaca"/><circle cx="176.2" cy="264.8" r="4.1" fill="#8a8a8c"/><circle cx="187.5" cy="177.2" r="4.1" fill="#8a8a8c"/><circle cx="307.6" cy="232.2" r="4.1" fill="#ff860a"/><circle cx="350.1" cy="198.7" r="4.1" fill="#ff860a"/><circle cx="309.3" cy="254.8" r="4.1" fill="#ff860a"/><circle cx="292.7" cy="174.9" r="4.1" fill="#a434f0"/><circle cx="295.1" cy="257.8" r="4.1" fill="#ff860a"/><circle cx="192.6" cy="259.8" r="4.1" fill="#8a8a8c"/><circle cx="322.0" cy="299.8" r="4.1" fill="#f00008"/><circle cx="171.0" cy="181.2" r="4.1" fill="#8a8a8c"/><circle cx="325.0" cy="224.4" r="4.1" fill="#ff860a"/><circle cx="295.3" cy="244.3" r="4.1" fill="#f00008"/><circle cx="310.7" cy="199.0" r="4.1" fill="#a434f0"/><circle cx="304.3" cy="243.8" r="4.1" fill="#f00008"/><circle cx="292.1" cy="202.3" r="4.1" fill="#a434f0"/><circle cx="167.7" cy="238.1" r="4.1" fill="#8a8a8c"/><circle cx="276.4" cy="171.9" r="4.1" fill="#a434f0"/><circle cx="286.3" cy="181.9" r="4.1" fill="#a434f0"/><circle cx="165.0" cy="168.0" r="4.1" fill="#8a8a8c"/><circle cx="295.5" cy="178.8" r="4.1" fill="#a434f0"/><circle cx="265.9" cy="187.9" r="4.1" fill="#a434f0"/><circle cx="318.4" cy="160.9" r="4.1" fill="#a434f0"/><circle cx="199.6" cy="212.1" r="4.1" fill="#8a8a8c"/><circle cx="310.0" cy="114.3" r="4.1" fill="#a434f0"/><circle cx="315.2" cy="219.3" r="4.1" fill="#ff860a"/><circle cx="386.9" cy="292.0" r="4.1" fill="#f00008"/><circle cx="378.2" cy="208.3" r="4.1" fill="#ff860a"/><circle cx="189.6" cy="205.8" r="4.1" fill="#8a8a8c"/><circle cx="304.1" cy="241.9" r="4.1" fill="#f00008"/><circle cx="326.0" cy="139.7" r="4.1" fill="#a434f0"/><circle cx="172.7" cy="207.3" r="4.1" fill="#8a8a8c"/><circle cx="148.8" cy="202.7" r="4.1" fill="#8a8a8c"/><circle cx="265.9" cy="204.3" r="4.1" fill="#a434f0"/><circle cx="298.0" cy="164.4" r="4.1" fill="#a434f0"/><circle cx="316.3" cy="213.1" r="4.1" fill="#f00008"/><circle cx="227.0" cy="233.1" r="4.1" fill="#8a8a8c"/><circle cx="172.1" cy="269.6" r="4.1" fill="#8a8a8c"/><circle cx="299.4" cy="123.5" r="4.1" fill="#a434f0"/><circle cx="289.9" cy="241.0" r="4.1" fill="#f00008"/><circle cx="212.3" cy="233.4" r="4.1" fill="#8a8a8c"/><circle cx="224.5" cy="262.6" r="4.1" fill="#8a8a8c"/><circle cx="189.8" cy="270.1" r="4.1" fill="#8a8a8c"/><circle cx="270.4" cy="194.7" r="4.1" fill="#a434f0"/><circle cx="323.1" cy="141.8" r="4.1" fill="#a434f0"/><circle cx="210.8" cy="246.6" r="4.1" fill="#8a8a8c"/><use href="#st" x="204.1" y="212.2" fill="#cacaca"/><circle cx="328.9" cy="187.6" r="4.1" fill="#a434f0"/><use href="#st" x="291.7" y="197.3" fill="#f0aaf8"/><circle cx="218.1" cy="267.1" r="4.1" fill="#8a8a8c"/><circle cx="184.0" cy="211.4" r="4.1" fill="#8a8a8c"/><circle cx="296.6" cy="267.8" r="4.1" fill="#f00008"/><circle cx="320.9" cy="213.1" r="4.1" fill="#f00008"/><circle cx="368.3" cy="250.0" r="4.1" fill="#f00008"/><circle cx="147.1" cy="234.2" r="4.1" fill="#8a8a8c"/><circle cx="308.7" cy="114.7" r="4.1" fill="#a434f0"/><circle cx="191.8" cy="223.4" r="4.1" fill="#8a8a8c"/><circle cx="179.7" cy="212.4" r="4.1" fill="#8a8a8c"/><circle cx="199.0" cy="174.3" r="4.1" fill="#8a8a8c"/><circle cx="319.3" cy="185.8" r="4.1" fill="#a434f0"/><circle cx="301.1" cy="199.4" r="4.1" fill="#a434f0"/><circle cx="157.9" cy="150.0" r="4.1" fill="#8a8a8c"/><circle cx="281.5" cy="154.8" r="4.1" fill="#a434f0"/><circle cx="297.0" cy="108.5" r="4.1" fill="#a434f0"/><circle cx="184.9" cy="168.0" r="4.1" fill="#8a8a8c"/><circle cx="280.8" cy="126.6" r="4.1" fill="#a434f0"/><circle cx="207.2" cy="208.8" r="4.1" fill="#8a8a8c"/><circle cx="296.2" cy="230.3" r="4.1" fill="#f00008"/><circle cx="305.5" cy="147.4" r="4.1" fill="#a434f0"/><circle cx="224.6" cy="192.9" r="4.1" fill="#8a8a8c"/><circle cx="302.3" cy="122.8" r="4.1" fill="#a434f0"/><circle cx="302.7" cy="166.0" r="4.1" fill="#a434f0"/><circle cx="313.8" cy="295.6" r="4.1" fill="#f00008"/><circle cx="163.4" cy="241.1" r="4.1" fill="#8a8a8c"/><circle cx="168.1" cy="227.8" r="4.1" fill="#8a8a8c"/><circle cx="308.8" cy="170.7" r="4.1" fill="#a434f0"/><circle cx="198.3" cy="270.2" r="4.1" fill="#8a8a8c"/><circle cx="314.2" cy="195.5" r="4.1" fill="#a434f0"/><circle cx="163.4" cy="189.4" r="4.1" fill="#8a8a8c"/><circle cx="313.5" cy="214.8" r="4.1" fill="#ff860a"/><circle cx="305.0" cy="215.0" r="4.1" fill="#f00008"/><circle cx="306.1" cy="275.7" r="4.1" fill="#f00008"/><circle cx="294.3" cy="206.9" r="4.1" fill="#a434f0"/><circle cx="358.0" cy="289.2" r="4.1" fill="#f00008"/><circle cx="184.8" cy="179.8" r="4.1" fill="#8a8a8c"/><use href="#st" x="273.3" y="227.5" fill="#f0aaf8"/><circle cx="310.6" cy="189.6" r="4.1" fill="#a434f0"/><circle cx="287.8" cy="161.7" r="4.1" fill="#a434f0"/><circle cx="309.9" cy="251.2" r="4.1" fill="#f00008"/><circle cx="217.8" cy="254.8" r="4.1" fill="#8a8a8c"/><circle cx="291.0" cy="152.7" r="4.1" fill="#a434f0"/><circle cx="333.7" cy="169.9" r="4.1" fill="#a434f0"/><circle cx="150.0" cy="248.7" r="4.1" fill="#8a8a8c"/><circle cx="357.2" cy="157.6" r="4.1" fill="#049c04"/><circle cx="156.4" cy="240.9" r="4.1" fill="#8a8a8c"/><circle cx="333.3" cy="140.2" r="4.1" fill="#a434f0"/><circle cx="345.8" cy="228.2" r="4.1" fill="#ff860a"/><use href="#st" x="217.1" y="247.1" fill="#cacaca"/><circle cx="318.4" cy="129.0" r="4.1" fill="#a434f0"/><circle cx="341.0" cy="155.2" r="4.1" fill="#049c04"/><circle cx="311.9" cy="276.4" r="4.1" fill="#f00008"/><circle cx="387.8" cy="190.7" r="4.1" fill="#049c04"/><circle cx="298.7" cy="224.5" r="4.1" fill="#ff860a"/><circle cx="261.3" cy="162.7" r="4.1" fill="#a434f0"/><circle cx="202.8" cy="242.3" r="4.1" fill="#8a8a8c"/><circle cx="163.8" cy="245.1" r="4.1" fill="#8a8a8c"/><circle cx="175.0" cy="139.7" r="4.1" fill="#8a8a8c"/><circle cx="312.9" cy="128.8" r="4.1" fill="#a434f0"/><circle cx="266.4" cy="161.2" r="4.1" fill="#a434f0"/><use href="#st" x="293.7" y="191.2" fill="#f0aaf8"/><circle cx="296.4" cy="257.2" r="4.1" fill="#f00008"/><circle cx="383.4" cy="202.4" r="4.1" fill="#049c04"/><circle cx="213.1" cy="220.3" r="4.1" fill="#8a8a8c"/><circle cx="305.8" cy="190.9" r="4.1" fill="#a434f0"/><use href="#st" x="191.8" y="210.6" fill="#cacaca"/><circle cx="372.6" cy="198.3" r="4.1" fill="#ff860a"/><circle cx="315.0" cy="229.0" r="4.1" fill="#f00008"/><circle cx="352.0" cy="167.4" r="4.1" fill="#049c04"/><use href="#st" x="265.4" y="192.4" fill="#f0aaf8"/><circle cx="194.7" cy="182.4" r="4.1" fill="#8a8a8c"/><circle cx="218.8" cy="251.6" r="4.1" fill="#8a8a8c"/><circle cx="300.5" cy="227.6" r="4.1" fill="#f00008"/><circle cx="208.1" cy="184.1" r="4.1" fill="#8a8a8c"/><circle cx="303.4" cy="152.7" r="4.1" fill="#a434f0"/><circle cx="197.3" cy="243.4" r="4.1" fill="#8a8a8c"/><circle cx="341.1" cy="206.4" r="4.1" fill="#049c04"/><circle cx="341.7" cy="200.4" r="4.1" fill="#049c04"/><use href="#st" x="206.1" y="176.9" fill="#cacaca"/><circle cx="345.2" cy="240.8" r="4.1" fill="#f00008"/><circle cx="219.2" cy="255.8" r="4.1" fill="#8a8a8c"/><circle cx="357.8" cy="282.4" r="4.1" fill="#f00008"/><circle cx="410.2" cy="208.1" r="4.1" fill="#049c04"/><circle cx="224.6" cy="252.7" r="4.1" fill="#8a8a8c"/><circle cx="309.4" cy="203.8" r="4.1" fill="#a434f0"/><circle cx="341.1" cy="268.2" r="4.1" fill="#f00008"/><circle cx="331.3" cy="291.5" r="4.1" fill="#f00008"/><circle cx="311.5" cy="292.0" r="4.1" fill="#f00008"/><circle cx="404.0" cy="168.2" r="4.1" fill="#049c04"/><circle cx="176.7" cy="266.9" r="4.1" fill="#8a8a8c"/><circle cx="211.5" cy="236.4" r="4.1" fill="#8a8a8c"/><circle cx="154.2" cy="173.6" r="4.1" fill="#8a8a8c"/><circle cx="180.6" cy="190.8" r="4.1" fill="#8a8a8c"/><circle cx="340.1" cy="294.3" r="4.1" fill="#f00008"/><circle cx="397.5" cy="175.8" r="4.1" fill="#049c04"/><circle cx="222.6" cy="206.9" r="4.1" fill="#8a8a8c"/><circle cx="354.8" cy="123.9" r="4.1" fill="#049c04"/><circle cx="314.9" cy="242.1" r="4.1" fill="#f00008"/><circle cx="302.7" cy="165.9" r="4.1" fill="#a434f0"/><circle cx="407.5" cy="165.9" r="4.1" fill="#049c04"/><circle cx="312.0" cy="192.8" r="4.1" fill="#a434f0"/><circle cx="303.4" cy="188.3" r="4.1" fill="#a434f0"/><circle cx="414.3" cy="184.4" r="4.1" fill="#049c04"/><circle cx="413.9" cy="204.9" r="4.1" fill="#049c04"/><circle cx="206.8" cy="216.2" r="4.1" fill="#8a8a8c"/><circle cx="309.9" cy="181.9" r="4.1" fill="#a434f0"/><circle cx="322.1" cy="189.7" r="4.1" fill="#a434f0"/><circle cx="187.7" cy="242.2" r="4.1" fill="#8a8a8c"/><circle cx="310.6" cy="224.8" r="4.1" fill="#f00008"/><circle cx="215.4" cy="237.4" r="4.1" fill="#8a8a8c"/><circle cx="342.9" cy="149.9" r="4.1" fill="#049c04"/><circle cx="217.5" cy="267.4" r="4.1" fill="#8a8a8c"/><circle cx="302.5" cy="175.8" r="4.1" fill="#a434f0"/><circle cx="184.3" cy="237.4" r="4.1" fill="#8a8a8c"/><circle cx="318.8" cy="268.2" r="4.1" fill="#f00008"/><circle cx="334.9" cy="179.1" r="4.1" fill="#049c04"/><circle cx="280.2" cy="217.5" r="4.1" fill="#a434f0"/><circle cx="371.1" cy="208.8" r="4.1" fill="#ff860a"/><circle cx="329.2" cy="162.4" r="4.1" fill="#049c04"/><circle cx="236.1" cy="208.1" r="4.1" fill="#8a8a8c"/><use href="#st" x="220.5" y="248.2" fill="#cacaca"/><circle cx="383.0" cy="247.4" r="4.1" fill="#049c04"/><circle cx="386.0" cy="249.0" r="4.1" fill="#049c04"/><circle cx="322.0" cy="296.0" r="4.1" fill="#f00008"/><circle cx="185.0" cy="281.6" r="4.1" fill="#8a8a8c"/><circle cx="367.7" cy="190.4" r="4.1" fill="#049c04"/><circle cx="183.4" cy="227.4" r="4.1" fill="#8a8a8c"/><circle cx="395.1" cy="221.1" r="4.1" fill="#ff860a"/><circle cx="377.8" cy="232.5" r="4.1" fill="#049c04"/><circle cx="395.0" cy="220.6" r="4.1" fill="#ff860a"/><circle cx="231.1" cy="188.1" r="4.1" fill="#8a8a8c"/><use href="#st" x="323.3" y="167.3" fill="#f0aaf8"/><circle cx="353.0" cy="189.5" r="4.1" fill="#049c04"/><circle cx="410.1" cy="189.1" r="4.1" fill="#049c04"/><circle cx="373.9" cy="185.4" r="4.1" fill="#049c04"/><circle cx="393.6" cy="207.3" r="4.1" fill="#049c04"/><circle cx="302.6" cy="203.0" r="4.1" fill="#a434f0"/><circle cx="324.0" cy="136.1" r="4.1" fill="#a434f0"/><circle cx="376.0" cy="159.4" r="4.1" fill="#049c04"/><circle cx="306.9" cy="234.9" r="4.1" fill="#f00008"/><circle cx="315.0" cy="291.6" r="4.1" fill="#f00008"/><circle cx="371.3" cy="180.4" r="4.1" fill="#049c04"/><circle cx="173.4" cy="186.2" r="4.1" fill="#8a8a8c"/><circle cx="211.4" cy="199.0" r="4.1" fill="#8a8a8c"/><circle cx="394.7" cy="165.0" r="4.1" fill="#049c04"/><circle cx="182.1" cy="231.7" r="4.1" fill="#8a8a8c"/><circle cx="311.8" cy="126.6" r="4.1" fill="#a434f0"/><circle cx="335.0" cy="170.0" r="4.1" fill="#049c04"/><circle cx="242.5" cy="221.7" r="4.1" fill="#8a8a8c"/><circle cx="381.4" cy="167.6" r="4.1" fill="#049c04"/><circle cx="317.0" cy="143.1" r="4.1" fill="#a434f0"/><circle cx="281.7" cy="144.8" r="4.1" fill="#a434f0"/><circle cx="415.2" cy="198.5" r="4.1" fill="#049c04"/><circle cx="303.4" cy="230.8" r="4.1" fill="#f00008"/><circle cx="372.3" cy="125.7" r="4.1" fill="#049c04"/><circle cx="290.0" cy="188.7" r="4.1" fill="#a434f0"/><circle cx="288.5" cy="150.8" r="4.1" fill="#a434f0"/><circle cx="293.6" cy="243.0" r="4.1" fill="#f00008"/><circle cx="343.8" cy="143.1" r="4.1" fill="#049c04"/><circle cx="224.2" cy="228.0" r="4.1" fill="#8a8a8c"/><circle cx="180.4" cy="260.5" r="4.1" fill="#8a8a8c"/><circle cx="384.7" cy="155.0" r="4.1" fill="#049c04"/><circle cx="169.9" cy="230.9" r="4.1" fill="#8a8a8c"/><circle cx="177.8" cy="163.4" r="4.1" fill="#8a8a8c"/><circle cx="319.8" cy="174.1" r="4.1" fill="#a434f0"/><circle cx="281.3" cy="189.7" r="4.1" fill="#a434f0"/><circle cx="337.0" cy="180.9" r="4.1" fill="#049c04"/><circle cx="159.8" cy="179.2" r="4.1" fill="#8a8a8c"/><use href="#st" x="203.9" y="206.4" fill="#cacaca"/><circle cx="291.1" cy="211.4" r="4.1" fill="#a434f0"/><circle cx="219.0" cy="230.2" r="4.1" fill="#8a8a8c"/><circle cx="326.1" cy="170.8" r="4.1" fill="#049c04"/><circle cx="310.1" cy="154.0" r="4.1" fill="#a434f0"/><circle cx="406.4" cy="158.0" r="4.1" fill="#049c04"/><circle cx="299.1" cy="186.9" r="4.1" fill="#f00008"/><circle cx="315.0" cy="163.6" r="4.1" fill="#a434f0"/><circle cx="178.8" cy="168.3" r="4.1" fill="#8a8a8c"/><circle cx="215.2" cy="209.8" r="4.1" fill="#8a8a8c"/><circle cx="387.1" cy="152.8" r="4.1" fill="#049c04"/><circle cx="382.1" cy="258.0" r="4.1" fill="#f00008"/><circle cx="151.3" cy="250.5" r="4.1" fill="#8a8a8c"/><circle cx="329.1" cy="194.4" r="4.1" fill="#049c04"/><circle cx="307.9" cy="219.6" r="4.1" fill="#f00008"/><circle cx="357.6" cy="117.5" r="4.1" fill="#049c04"/><circle cx="401.0" cy="182.0" r="4.1" fill="#049c04"/><circle cx="188.1" cy="194.4" r="4.1" fill="#8a8a8c"/><circle cx="337.5" cy="297.5" r="4.1" fill="#f00008"/><circle cx="198.2" cy="183.4" r="4.1" fill="#8a8a8c"/><circle cx="309.1" cy="215.4" r="4.1" fill="#f00008"/><circle cx="307.3" cy="164.7" r="4.1" fill="#f00008"/><circle cx="363.8" cy="154.4" r="4.1" fill="#049c04"/><use href="#st" x="219.5" y="230.6" fill="#cacaca"/><circle cx="234.7" cy="237.8" r="4.1" fill="#8a8a8c"/><circle cx="195.4" cy="188.1" r="4.1" fill="#8a8a8c"/><circle cx="152.5" cy="187.5" r="4.1" fill="#8a8a8c"/><circle cx="373.0" cy="201.0" r="4.1" fill="#049c04"/><circle cx="203.7" cy="277.3" r="4.1" fill="#8a8a8c"/><circle cx="327.8" cy="289.5" r="4.1" fill="#f00008"/><circle cx="181.3" cy="275.0" r="4.1" fill="#8a8a8c"/><circle cx="225.4" cy="241.3" r="4.1" fill="#8a8a8c"/><circle cx="331.4" cy="143.3" r="4.1" fill="#a434f0"/><circle cx="204.5" cy="276.9" r="4.1" fill="#8a8a8c"/><circle cx="312.3" cy="298.0" r="4.1" fill="#f00008"/><circle cx="327.6" cy="151.0" r="4.1" fill="#049c04"/><circle cx="147.8" cy="236.3" r="4.1" fill="#8a8a8c"/><circle cx="214.2" cy="240.9" r="4.1" fill="#8a8a8c"/><use href="#st" x="228.6" y="187.0" fill="#cacaca"/><circle cx="371.7" cy="186.0" r="4.1" fill="#049c04"/><circle cx="172.0" cy="197.1" r="4.1" fill="#8a8a8c"/><use href="#st" x="166.7" y="217.7" fill="#cacaca"/><circle cx="297.4" cy="199.5" r="4.1" fill="#a434f0"/><circle cx="265.4" cy="205.5" r="4.1" fill="#a434f0"/><circle cx="324.4" cy="288.6" r="4.1" fill="#f00008"/><circle cx="379.7" cy="147.4" r="4.1" fill="#049c04"/><circle cx="388.9" cy="237.4" r="4.1" fill="#049c04"/><circle cx="308.8" cy="284.4" r="4.1" fill="#f00008"/><circle cx="383.6" cy="132.8" r="4.1" fill="#049c04"/><circle cx="310.4" cy="174.8" r="4.1" fill="#a434f0"/><circle cx="289.6" cy="139.0" r="4.1" fill="#a434f0"/><circle cx="263.0" cy="144.0" r="4.1" fill="#a434f0"/><circle cx="310.7" cy="245.5" r="4.1" fill="#f00008"/><use href="#st" x="293.5" y="133.7" fill="#f0aaf8"/><circle cx="397.2" cy="196.9" r="4.1" fill="#049c04"/><circle cx="374.2" cy="145.6" r="4.1" fill="#049c04"/><circle cx="162.2" cy="227.5" r="4.1" fill="#8a8a8c"/><circle cx="302.7" cy="236.4" r="4.1" fill="#ff860a"/><circle cx="369.3" cy="145.5" r="4.1" fill="#049c04"/><circle cx="284.4" cy="148.8" r="4.1" fill="#a434f0"/><circle cx="313.6" cy="144.3" r="4.1" fill="#a434f0"/><circle cx="296.5" cy="149.9" r="4.1" fill="#a434f0"/><circle cx="234.9" cy="201.6" r="4.1" fill="#8a8a8c"/><circle cx="346.3" cy="226.5" r="4.1" fill="#ff860a"/><use href="#st" x="265.3" y="174.4" fill="#f0aaf8"/><circle cx="174.1" cy="219.9" r="4.1" fill="#8a8a8c"/><circle cx="366.6" cy="208.4" r="4.1" fill="#049c04"/><circle cx="362.9" cy="127.7" r="4.1" fill="#049c04"/><circle cx="291.0" cy="180.2" r="4.1" fill="#a434f0"/><circle cx="294.4" cy="121.9" r="4.1" fill="#a434f0"/><circle cx="303.7" cy="195.4" r="4.1" fill="#f00008"/><circle cx="213.0" cy="170.9" r="4.1" fill="#8a8a8c"/><circle cx="336.7" cy="133.5" r="4.1" fill="#049c04"/><circle cx="297.2" cy="136.9" r="4.1" fill="#a434f0"/><circle cx="241.7" cy="242.1" r="4.1" fill="#8a8a8c"/><circle cx="381.1" cy="125.8" r="4.1" fill="#049c04"/><circle cx="282.2" cy="170.0" r="4.1" fill="#a434f0"/><circle cx="363.6" cy="136.0" r="4.1" fill="#049c04"/><use href="#st" x="300.9" y="161.0" fill="#f0aaf8"/><circle cx="335.3" cy="293.9" r="4.1" fill="#f00008"/><circle cx="222.0" cy="187.3" r="4.1" fill="#8a8a8c"/><circle cx="362.4" cy="204.4" r="4.1" fill="#049c04"/><circle cx="164.2" cy="232.5" r="4.1" fill="#8a8a8c"/><circle cx="275.9" cy="164.5" r="4.1" fill="#a434f0"/><use href="#st" x="294.8" y="190.3" fill="#f0aaf8"/><circle cx="173.7" cy="267.4" r="4.1" fill="#8a8a8c"/><circle cx="385.8" cy="126.5" r="4.1" fill="#049c04"/><circle cx="305.9" cy="226.4" r="4.1" fill="#f00008"/><circle cx="318.7" cy="200.3" r="4.1" fill="#a434f0"/><circle cx="396.1" cy="140.7" r="4.1" fill="#049c04"/><circle cx="365.4" cy="162.7" r="4.1" fill="#049c04"/><circle cx="231.1" cy="222.8" r="4.1" fill="#8a8a8c"/><circle cx="337.4" cy="172.4" r="4.1" fill="#049c04"/><circle cx="349.6" cy="207.1" r="4.1" fill="#049c04"/><circle cx="228.8" cy="207.2" r="4.1" fill="#8a8a8c"/><circle cx="315.5" cy="195.0" r="4.1" fill="#a434f0"/><circle cx="180.9" cy="235.9" r="4.1" fill="#8a8a8c"/><circle cx="189.9" cy="254.5" r="4.1" fill="#8a8a8c"/><circle cx="241.0" cy="271.2" r="4.1" fill="#8a8a8c"/><circle cx="191.6" cy="184.6" r="4.1" fill="#8a8a8c"/><circle cx="199.9" cy="256.4" r="4.1" fill="#8a8a8c"/><circle cx="224.5" cy="198.0" r="4.1" fill="#8a8a8c"/><circle cx="364.7" cy="112.5" r="4.1" fill="#049c04"/><circle cx="277.6" cy="187.8" r="4.1" fill="#a434f0"/><circle cx="363.3" cy="126.6" r="4.1" fill="#049c04"/><circle cx="195.4" cy="256.6" r="4.1" fill="#8a8a8c"/><circle cx="221.3" cy="272.6" r="4.1" fill="#8a8a8c"/><use href="#st" x="170.7" y="211.1" fill="#cacaca"/><circle cx="204.6" cy="208.1" r="4.1" fill="#8a8a8c"/><circle cx="183.2" cy="202.3" r="4.1" fill="#8a8a8c"/><circle cx="216.7" cy="275.0" r="4.1" fill="#8a8a8c"/><circle cx="392.9" cy="185.8" r="4.1" fill="#049c04"/><use href="#st" x="324.2" y="189.3" fill="#f0aaf8"/><circle cx="376.3" cy="290.3" r="4.1" fill="#f00008"/><circle cx="335.0" cy="148.1" r="4.1" fill="#049c04"/><circle cx="384.0" cy="231.3" r="4.1" fill="#049c04"/><circle cx="298.9" cy="147.3" r="4.1" fill="#a434f0"/><circle cx="297.9" cy="193.2" r="4.1" fill="#f00008"/><circle cx="343.9" cy="214.4" r="4.1" fill="#ff860a"/><circle cx="283.7" cy="212.9" r="4.1" fill="#a434f0"/><circle cx="177.3" cy="256.8" r="4.1" fill="#8a8a8c"/><circle cx="173.5" cy="250.9" r="4.1" fill="#8a8a8c"/><circle cx="208.7" cy="252.0" r="4.1" fill="#8a8a8c"/><circle cx="267.8" cy="167.6" r="4.1" fill="#a434f0"/><circle cx="318.4" cy="235.0" r="4.1" fill="#f00008"/><circle cx="323.8" cy="277.0" r="4.1" fill="#f00008"/><circle cx="310.0" cy="208.5" r="4.1" fill="#f00008"/><circle cx="196.6" cy="250.7" r="4.1" fill="#8a8a8c"/><circle cx="277.7" cy="160.7" r="4.1" fill="#a434f0"/><circle cx="338.9" cy="165.8" r="4.1" fill="#049c04"/><circle cx="322.9" cy="167.6" r="4.1" fill="#a434f0"/><use href="#st" x="327.5" y="165.5" fill="#f0aaf8"/><circle cx="251.0" cy="249.4" r="4.1" fill="#8a8a8c"/><circle cx="304.9" cy="282.7" r="4.1" fill="#f00008"/><circle cx="225.5" cy="186.4" r="4.1" fill="#8a8a8c"/><circle cx="336.5" cy="190.9" r="4.1" fill="#049c04"/><circle cx="306.9" cy="153.0" r="4.1" fill="#a434f0"/><circle cx="374.9" cy="223.2" r="4.1" fill="#049c04"/><circle cx="386.8" cy="259.7" r="4.1" fill="#049c04"/><circle cx="401.6" cy="165.5" r="4.1" fill="#049c04"/><circle cx="362.2" cy="219.7" r="4.1" fill="#049c04"/><circle cx="363.9" cy="136.9" r="4.1" fill="#049c04"/><circle cx="367.2" cy="155.7" r="4.1" fill="#049c04"/><circle cx="326.9" cy="146.9" r="4.1" fill="#a434f0"/><circle cx="167.3" cy="269.9" r="4.1" fill="#8a8a8c"/><circle cx="205.6" cy="233.5" r="4.1" fill="#8a8a8c"/><circle cx="330.9" cy="146.3" r="4.1" fill="#a434f0"/><circle cx="201.4" cy="230.8" r="4.1" fill="#8a8a8c"/><circle cx="173.4" cy="239.4" r="4.1" fill="#8a8a8c"/><circle cx="152.4" cy="203.9" r="4.1" fill="#8a8a8c"/><circle cx="229.6" cy="189.4" r="4.1" fill="#8a8a8c"/><circle cx="355.3" cy="180.8" r="4.1" fill="#049c04"/><circle cx="285.1" cy="186.9" r="4.1" fill="#a434f0"/><circle cx="310.8" cy="148.9" r="4.1" fill="#a434f0"/><circle cx="304.2" cy="265.1" r="4.1" fill="#f00008"/><circle cx="227.7" cy="254.1" r="4.1" fill="#8a8a8c"/><use href="#st" x="233.9" y="256.7" fill="#cacaca"/><circle cx="162.2" cy="254.8" r="4.1" fill="#8a8a8c"/><circle cx="395.8" cy="132.2" r="4.1" fill="#049c04"/><circle cx="334.8" cy="298.9" r="4.1" fill="#f00008"/><circle cx="343.7" cy="321.4" r="4.1" fill="#ff860a"/><circle cx="399.6" cy="160.0" r="4.1" fill="#049c04"/><circle cx="379.8" cy="307.9" r="4.1" fill="#ff860a"/><use href="#st" x="310.1" y="191.8" fill="#f09898"/><circle cx="213.4" cy="200.2" r="4.1" fill="#8a8a8c"/><circle cx="318.2" cy="216.9" r="4.1" fill="#f00008"/><circle cx="309.0" cy="271.4" r="4.1" fill="#f00008"/><circle cx="203.8" cy="280.7" r="4.1" fill="#8a8a8c"/><circle cx="300.7" cy="150.0" r="4.1" fill="#a434f0"/><circle cx="377.8" cy="205.4" r="4.1" fill="#049c04"/><circle cx="382.6" cy="257.6" r="4.1" fill="#049c04"/><circle cx="383.6" cy="238.5" r="4.1" fill="#049c04"/><circle cx="404.3" cy="133.1" r="4.1" fill="#049c04"/><circle cx="317.0" cy="292.6" r="4.1" fill="#f00008"/><circle cx="296.7" cy="216.4" r="4.1" fill="#f00008"/><circle cx="356.9" cy="175.5" r="4.1" fill="#049c04"/><circle cx="359.4" cy="283.7" r="4.1" fill="#f00008"/><circle cx="294.3" cy="229.8" r="4.1" fill="#ff860a"/><circle cx="186.0" cy="212.6" r="4.1" fill="#8a8a8c"/><circle cx="229.0" cy="228.2" r="4.1" fill="#8a8a8c"/><circle cx="365.5" cy="294.7" r="4.1" fill="#f00008"/><circle cx="334.8" cy="162.6" r="4.1" fill="#a434f0"/><circle cx="356.9" cy="161.2" r="4.1" fill="#049c04"/><circle cx="194.2" cy="236.9" r="4.1" fill="#8a8a8c"/><circle cx="378.9" cy="124.1" r="4.1" fill="#049c04"/><circle cx="181.8" cy="273.1" r="4.1" fill="#8a8a8c"/><circle cx="223.1" cy="208.8" r="4.1" fill="#8a8a8c"/><circle cx="361.2" cy="282.0" r="4.1" fill="#ff860a"/><circle cx="346.6" cy="287.3" r="4.1" fill="#ff860a"/><circle cx="218.4" cy="208.2" r="4.1" fill="#8a8a8c"/><circle cx="147.7" cy="214.6" r="4.1" fill="#8a8a8c"/><circle cx="376.0" cy="162.5" r="4.1" fill="#049c04"/><circle cx="401.8" cy="174.7" r="4.1" fill="#049c04"/><circle cx="352.3" cy="284.6" r="4.1" fill="#ff860a"/><use href="#st" x="239.5" y="206.9" fill="#cacaca"/><circle cx="338.4" cy="264.7" r="4.1" fill="#ff860a"/><circle cx="390.3" cy="232.3" r="4.1" fill="#049c04"/><circle cx="389.2" cy="249.7" r="4.1" fill="#049c04"/><circle cx="289.0" cy="245.4" r="4.1" fill="#f00008"/><circle cx="235.8" cy="222.7" r="4.1" fill="#8a8a8c"/><circle cx="378.5" cy="248.4" r="4.1" fill="#ff860a"/><circle cx="321.3" cy="196.0" r="4.1" fill="#ff860a"/><circle cx="348.2" cy="332.5" r="4.1" fill="#ff860a"/><circle cx="340.2" cy="298.0" r="4.1" fill="#f00008"/><circle cx="331.8" cy="182.1" r="4.1" fill="#a434f0"/><circle cx="381.8" cy="303.9" r="4.1" fill="#ff860a"/><circle cx="283.6" cy="192.3" r="4.1" fill="#a434f0"/><circle cx="404.8" cy="185.5" r="4.1" fill="#049c04"/><circle cx="173.3" cy="282.8" r="4.1" fill="#8a8a8c"/><circle cx="277.1" cy="207.9" r="4.1" fill="#a434f0"/><circle cx="281.8" cy="175.3" r="4.1" fill="#a434f0"/><circle cx="300.6" cy="190.5" r="4.1" fill="#a434f0"/><circle cx="305.9" cy="150.2" r="4.1" fill="#a434f0"/><circle cx="360.5" cy="263.7" r="4.1" fill="#ff860a"/><circle cx="324.6" cy="240.6" r="4.1" fill="#ff860a"/><circle cx="169.1" cy="231.4" r="4.1" fill="#8a8a8c"/><circle cx="307.8" cy="198.5" r="4.1" fill="#a434f0"/><circle cx="370.8" cy="170.0" r="4.1" fill="#049c04"/><circle cx="362.9" cy="268.6" r="4.1" fill="#ff860a"/><circle cx="356.2" cy="184.3" r="4.1" fill="#049c04"/><circle cx="324.3" cy="226.0" r="4.1" fill="#f00008"/><circle cx="208.4" cy="248.3" r="4.1" fill="#8a8a8c"/><circle cx="179.1" cy="221.3" r="4.1" fill="#8a8a8c"/><circle cx="170.0" cy="222.6" r="4.1" fill="#8a8a8c"/><circle cx="184.2" cy="207.5" r="4.1" fill="#8a8a8c"/><circle cx="332.1" cy="141.2" r="4.1" fill="#049c04"/><circle cx="318.8" cy="202.7" r="4.1" fill="#f00008"/><circle cx="354.2" cy="155.8" r="4.1" fill="#049c04"/><circle cx="179.2" cy="222.8" r="4.1" fill="#8a8a8c"/><circle cx="339.8" cy="303.4" r="4.1" fill="#f00008"/><circle cx="330.1" cy="217.6" r="4.1" fill="#ff860a"/><circle cx="268.4" cy="172.1" r="4.1" fill="#a434f0"/><circle cx="355.6" cy="185.0" r="4.1" fill="#049c04"/><circle cx="330.5" cy="183.7" r="4.1" fill="#049c04"/><circle cx="296.4" cy="180.0" r="4.1" fill="#f00008"/><circle cx="384.8" cy="204.6" r="4.1" fill="#049c04"/><circle cx="320.0" cy="232.1" r="4.1" fill="#f00008"/><circle cx="155.6" cy="192.5" r="4.1" fill="#8a8a8c"/><circle cx="276.9" cy="147.5" r="4.1" fill="#a434f0"/><circle cx="313.4" cy="257.7" r="4.1" fill="#f00008"/><circle cx="347.6" cy="333.0" r="4.1" fill="#ff860a"/><circle cx="386.4" cy="166.4" r="4.1" fill="#049c04"/><circle cx="298.4" cy="124.9" r="4.1" fill="#a434f0"/><circle cx="274.2" cy="196.3" r="4.1" fill="#a434f0"/><circle cx="235.0" cy="221.4" r="4.1" fill="#8a8a8c"/><circle cx="297.5" cy="154.4" r="4.1" fill="#a434f0"/><circle cx="183.2" cy="170.5" r="4.1" fill="#8a8a8c"/><circle cx="169.2" cy="267.8" r="4.1" fill="#8a8a8c"/><circle cx="306.9" cy="209.8" r="4.1" fill="#f00008"/><circle cx="157.4" cy="248.7" r="4.1" fill="#8a8a8c"/><circle cx="386.6" cy="254.9" r="4.1" fill="#049c04"/><circle cx="386.8" cy="252.6" r="4.1" fill="#ff860a"/><circle cx="229.9" cy="213.3" r="4.1" fill="#8a8a8c"/><circle cx="210.9" cy="267.7" r="4.1" fill="#8a8a8c"/><circle cx="203.9" cy="273.7" r="4.1" fill="#8a8a8c"/><circle cx="401.7" cy="141.5" r="4.1" fill="#049c04"/><circle cx="410.2" cy="201.3" r="4.1" fill="#049c04"/><circle cx="330.8" cy="220.8" r="4.1" fill="#f00008"/><circle cx="185.8" cy="257.6" r="4.1" fill="#8a8a8c"/><circle cx="322.8" cy="198.9" r="4.1" fill="#ff860a"/><circle cx="319.2" cy="259.7" r="4.1" fill="#ff860a"/><circle cx="319.7" cy="123.4" r="4.1" fill="#a434f0"/><circle cx="333.2" cy="159.9" r="4.1" fill="#a434f0"/><circle cx="313.4" cy="144.1" r="4.1" fill="#a434f0"/><circle cx="207.1" cy="248.3" r="4.1" fill="#8a8a8c"/><circle cx="294.5" cy="130.6" r="4.1" fill="#a434f0"/><circle cx="222.4" cy="208.4" r="4.1" fill="#8a8a8c"/><circle cx="370.8" cy="308.0" r="4.1" fill="#ff860a"/><circle cx="175.7" cy="241.3" r="4.1" fill="#8a8a8c"/><circle cx="305.9" cy="167.9" r="4.1" fill="#a434f0"/><circle cx="372.7" cy="117.1" r="4.1" fill="#049c04"/><circle cx="327.0" cy="147.3" r="4.1" fill="#049c04"/><circle cx="207.3" cy="275.4" r="4.1" fill="#8a8a8c"/><circle cx="364.6" cy="292.9" r="4.1" fill="#ff860a"/><circle cx="385.8" cy="256.2" r="4.1" fill="#049c04"/><circle cx="388.4" cy="215.7" r="4.1" fill="#ff860a"/><circle cx="356.9" cy="183.5" r="4.1" fill="#049c04"/><circle cx="360.3" cy="154.8" r="4.1" fill="#049c04"/><circle cx="286.0" cy="184.2" r="4.1" fill="#a434f0"/><circle cx="220.3" cy="222.1" r="4.1" fill="#8a8a8c"/><circle cx="300.7" cy="252.5" r="4.1" fill="#f00008"/><circle cx="332.0" cy="151.0" r="4.1" fill="#a434f0"/><circle cx="324.5" cy="220.2" r="4.1" fill="#ff860a"/><circle cx="371.0" cy="218.0" r="4.1" fill="#049c04"/><circle cx="351.6" cy="206.6" r="4.1" fill="#049c04"/><circle cx="377.3" cy="283.4" r="4.1" fill="#ff860a"/><use href="#st" x="317.6" y="173.5" fill="#f0aaf8"/><circle cx="365.7" cy="199.3" r="4.1" fill="#049c04"/><circle cx="372.3" cy="291.6" r="4.1" fill="#ff860a"/><circle cx="360.6" cy="200.4" r="4.1" fill="#049c04"/><circle cx="329.5" cy="287.5" r="4.1" fill="#ff860a"/><circle cx="161.2" cy="212.6" r="4.1" fill="#8a8a8c"/><circle cx="405.1" cy="137.9" r="4.1" fill="#049c04"/><circle cx="193.6" cy="273.4" r="4.1" fill="#8a8a8c"/><circle cx="213.1" cy="227.3" r="4.1" fill="#8a8a8c"/><circle cx="299.1" cy="259.0" r="4.1" fill="#f00008"/><circle cx="205.4" cy="243.0" r="4.1" fill="#8a8a8c"/><circle cx="278.4" cy="211.5" r="4.1" fill="#a434f0"/><circle cx="174.8" cy="170.4" r="4.1" fill="#8a8a8c"/><circle cx="307.8" cy="255.7" r="4.1" fill="#f00008"/><circle cx="344.3" cy="291.9" r="4.1" fill="#ff860a"/><circle cx="334.8" cy="295.0" r="4.1" fill="#f00008"/><circle cx="318.6" cy="139.5" r="4.1" fill="#a434f0"/><circle cx="156.3" cy="226.4" r="4.1" fill="#8a8a8c"/><circle cx="364.9" cy="153.5" r="4.1" fill="#049c04"/><circle cx="383.7" cy="216.1" r="4.1" fill="#049c04"/><circle cx="237.4" cy="234.6" r="4.1" fill="#8a8a8c"/><circle cx="288.2" cy="162.3" r="4.1" fill="#a434f0"/><circle cx="185.4" cy="192.9" r="4.1" fill="#8a8a8c"/><circle cx="234.5" cy="209.0" r="4.1" fill="#8a8a8c"/><circle cx="344.7" cy="241.6" r="4.1" fill="#ff860a"/><circle cx="349.2" cy="199.0" r="4.1" fill="#049c04"/><circle cx="360.6" cy="134.2" r="4.1" fill="#049c04"/><circle cx="377.5" cy="265.4" r="4.1" fill="#f00008"/><circle cx="397.9" cy="145.6" r="4.1" fill="#049c04"/><circle cx="371.6" cy="135.4" r="4.1" fill="#049c04"/><circle cx="169.2" cy="252.5" r="4.1" fill="#8a8a8c"/><circle cx="367.6" cy="282.3" r="4.1" fill="#ff860a"/><circle cx="306.2" cy="187.8" r="4.1" fill="#f00008"/><circle cx="199.2" cy="196.4" r="4.1" fill="#8a8a8c"/><circle cx="299.0" cy="179.1" r="4.1" fill="#a434f0"/><circle cx="373.3" cy="219.1" r="4.1" fill="#049c04"/><circle cx="303.9" cy="124.3" r="4.1" fill="#a434f0"/><circle cx="296.9" cy="270.9" r="4.1" fill="#f00008"/><circle cx="232.5" cy="189.9" r="4.1" fill="#8a8a8c"/><circle cx="315.4" cy="270.7" r="4.1" fill="#f00008"/><circle cx="355.8" cy="219.9" r="4.1" fill="#049c04"/><circle cx="386.6" cy="113.2" r="4.1" fill="#049c04"/><circle cx="149.6" cy="237.8" r="4.1" fill="#8a8a8c"/><circle cx="367.0" cy="229.9" r="4.1" fill="#ff860a"/><circle cx="360.6" cy="234.3" r="4.1" fill="#ff860a"/><circle cx="178.5" cy="233.4" r="4.1" fill="#8a8a8c"/><circle cx="279.1" cy="189.2" r="4.1" fill="#a434f0"/><circle cx="346.1" cy="195.2" r="4.1" fill="#049c04"/><circle cx="356.2" cy="300.5" r="4.1" fill="#ff860a"/><circle cx="323.4" cy="129.7" r="4.1" fill="#a434f0"/><circle cx="313.4" cy="221.0" r="4.1" fill="#f00008"/><circle cx="295.8" cy="255.8" r="4.1" fill="#f00008"/><circle cx="369.4" cy="109.3" r="4.1" fill="#049c04"/><circle cx="328.4" cy="307.6" r="4.1" fill="#f00008"/><circle cx="188.2" cy="226.2" r="4.1" fill="#8a8a8c"/><circle cx="301.7" cy="187.8" r="4.1" fill="#a434f0"/><circle cx="311.4" cy="124.1" r="4.1" fill="#a434f0"/><circle cx="288.9" cy="167.4" r="4.1" fill="#a434f0"/><circle cx="321.7" cy="191.5" r="4.1" fill="#a434f0"/><circle cx="391.5" cy="149.2" r="4.1" fill="#049c04"/><circle cx="213.1" cy="192.8" r="4.1" fill="#8a8a8c"/><circle cx="359.2" cy="200.1" r="4.1" fill="#ff860a"/><circle cx="334.2" cy="258.8" r="4.1" fill="#ff860a"/><circle cx="163.1" cy="161.2" r="4.1" fill="#8a8a8c"/><circle cx="152.1" cy="212.0" r="4.1" fill="#8a8a8c"/><circle cx="308.3" cy="219.5" r="4.1" fill="#ff860a"/><circle cx="346.2" cy="213.0" r="4.1" fill="#049c04"/><circle cx="352.1" cy="282.0" r="4.1" fill="#ff860a"/><circle cx="327.8" cy="285.8" r="4.1" fill="#f00008"/><use href="#st" x="149.5" y="191.3" fill="#cacaca"/><circle cx="230.1" cy="228.2" r="4.1" fill="#8a8a8c"/><circle cx="381.0" cy="232.6" r="4.1" fill="#f00008"/><circle cx="286.4" cy="139.4" r="4.1" fill="#a434f0"/><circle cx="373.8" cy="186.4" r="4.1" fill="#049c04"/><circle cx="385.6" cy="216.6" r="4.1" fill="#049c04"/><circle cx="356.0" cy="272.7" r="4.1" fill="#ff860a"/><circle cx="309.9" cy="134.6" r="4.1" fill="#a434f0"/><circle cx="403.0" cy="172.8" r="4.1" fill="#049c04"/><circle cx="291.2" cy="160.5" r="4.1" fill="#a434f0"/><circle cx="316.9" cy="251.9" r="4.1" fill="#ff860a"/><circle cx="369.8" cy="246.5" r="4.1" fill="#ff860a"/><circle cx="356.5" cy="168.2" r="4.1" fill="#049c04"/><circle cx="369.3" cy="186.5" r="4.1" fill="#049c04"/><circle cx="395.3" cy="218.6" r="4.1" fill="#ff860a"/><circle cx="340.4" cy="123.2" r="4.1" fill="#049c04"/><circle cx="208.8" cy="247.4" r="4.1" fill="#8a8a8c"/><circle cx="337.8" cy="165.8" r="4.1" fill="#a434f0"/><circle cx="334.5" cy="155.4" r="4.1" fill="#049c04"/><circle cx="307.0" cy="157.6" r="4.1" fill="#a434f0"/><circle cx="323.6" cy="301.8" r="4.1" fill="#ff860a"/><circle cx="327.7" cy="154.4" r="4.1" fill="#a434f0"/><circle cx="188.2" cy="215.6" r="4.1" fill="#8a8a8c"/><circle cx="271.9" cy="149.6" r="4.1" fill="#a434f0"/><circle cx="334.8" cy="167.6" r="4.1" fill="#049c04"/><circle cx="317.9" cy="164.1" r="4.1" fill="#a434f0"/><circle cx="387.0" cy="111.8" r="4.1" fill="#049c04"/><circle cx="268.3" cy="179.3" r="4.1" fill="#a434f0"/><circle cx="214.2" cy="210.7" r="4.1" fill="#8a8a8c"/><circle cx="167.5" cy="170.9" r="4.1" fill="#8a8a8c"/><circle cx="329.7" cy="169.2" r="4.1" fill="#a434f0"/><circle cx="209.5" cy="277.5" r="4.1" fill="#8a8a8c"/><circle cx="235.6" cy="224.1" r="4.1" fill="#8a8a8c"/><circle cx="323.6" cy="216.6" r="4.1" fill="#f00008"/><circle cx="325.4" cy="156.0" r="4.1" fill="#a434f0"/><circle cx="160.8" cy="218.2" r="4.1" fill="#8a8a8c"/><use href="#st" x="206.4" y="275.5" fill="#cacaca"/><circle cx="160.7" cy="246.8" r="4.1" fill="#8a8a8c"/><circle cx="384.1" cy="295.5" r="4.1" fill="#f00008"/><circle cx="164.3" cy="178.3" r="4.1" fill="#8a8a8c"/><circle cx="150.5" cy="198.1" r="4.1" fill="#8a8a8c"/><circle cx="155.7" cy="203.1" r="4.1" fill="#8a8a8c"/><use href="#st" x="299.5" y="254.6" fill="#f09898"/><circle cx="344.5" cy="300.5" r="4.1" fill="#ff860a"/><circle cx="297.4" cy="174.1" r="4.1" fill="#a434f0"/><circle cx="367.6" cy="89.6" r="4.1" fill="#049c04"/><circle cx="387.5" cy="272.9" r="4.1" fill="#ff860a"/><circle cx="366.1" cy="256.6" r="4.1" fill="#ff860a"/><circle cx="284.8" cy="130.3" r="4.1" fill="#a434f0"/><circle cx="299.0" cy="222.7" r="4.1" fill="#f00008"/><circle cx="304.6" cy="248.7" r="4.1" fill="#f00008"/><circle cx="302.0" cy="130.0" r="4.1" fill="#a434f0"/><circle cx="358.9" cy="157.8" r="4.1" fill="#049c04"/><circle cx="376.6" cy="267.0" r="4.1" fill="#ff860a"/><circle cx="291.4" cy="156.1" r="4.1" fill="#a434f0"/><circle cx="344.6" cy="152.3" r="4.1" fill="#049c04"/><circle cx="373.8" cy="241.2" r="4.1" fill="#ff860a"/><circle cx="264.6" cy="186.5" r="4.1" fill="#a434f0"/><circle cx="328.5" cy="137.9" r="4.1" fill="#a434f0"/><circle cx="277.8" cy="170.1" r="4.1" fill="#a434f0"/><circle cx="384.2" cy="275.4" r="4.1" fill="#ff860a"/><circle cx="387.6" cy="306.7" r="4.1" fill="#ff860a"/><circle cx="216.3" cy="176.0" r="4.1" fill="#8a8a8c"/><circle cx="195.2" cy="257.6" r="4.1" fill="#8a8a8c"/><circle cx="367.0" cy="342.0" r="4.1" fill="#ff860a"/><circle cx="330.9" cy="280.7" r="4.1" fill="#ff860a"/><circle cx="318.6" cy="135.4" r="4.1" fill="#a434f0"/><circle cx="401.9" cy="136.8" r="4.1" fill="#049c04"/><circle cx="376.0" cy="198.4" r="4.1" fill="#049c04"/><circle cx="298.7" cy="260.7" r="4.1" fill="#f00008"/><circle cx="186.0" cy="177.6" r="4.1" fill="#8a8a8c"/><circle cx="160.0" cy="188.6" r="4.1" fill="#8a8a8c"/><circle cx="320.1" cy="158.4" r="4.1" fill="#a434f0"/><circle cx="330.7" cy="200.2" r="4.1" fill="#049c04"/><circle cx="175.4" cy="213.7" r="4.1" fill="#8a8a8c"/><circle cx="173.5" cy="171.2" r="4.1" fill="#8a8a8c"/><circle cx="304.5" cy="135.5" r="4.1" fill="#a434f0"/><circle cx="353.3" cy="171.7" r="4.1" fill="#049c04"/><circle cx="147.9" cy="214.9" r="4.1" fill="#8a8a8c"/><circle cx="287.5" cy="195.1" r="4.1" fill="#a434f0"/><circle cx="309.6" cy="233.5" r="4.1" fill="#f00008"/><circle cx="322.4" cy="271.9" r="4.1" fill="#f00008"/><circle cx="378.8" cy="179.1" r="4.1" fill="#049c04"/><circle cx="282.5" cy="139.6" r="4.1" fill="#a434f0"/><use href="#st" x="300.4" y="197.5" fill="#f0aaf8"/><circle cx="309.1" cy="126.4" r="4.1" fill="#a434f0"/><circle cx="364.5" cy="250.1" r="4.1" fill="#f00008"/><circle cx="368.9" cy="239.5" r="4.1" fill="#ff860a"/><circle cx="304.3" cy="237.6" r="4.1" fill="#ff860a"/><circle cx="228.2" cy="234.8" r="4.1" fill="#8a8a8c"/><circle cx="155.4" cy="231.4" r="4.1" fill="#8a8a8c"/><circle cx="334.5" cy="231.5" r="4.1" fill="#ff860a"/><circle cx="348.4" cy="189.1" r="4.1" fill="#049c04"/><circle cx="319.2" cy="263.5" r="4.1" fill="#ff860a"/><circle cx="317.5" cy="186.0" r="4.1" fill="#a434f0"/><circle cx="310.8" cy="275.8" r="4.1" fill="#f00008"/><circle cx="382.7" cy="160.4" r="4.1" fill="#049c04"/><circle cx="375.8" cy="243.8" r="4.1" fill="#ff860a"/><circle cx="390.2" cy="153.7" r="4.1" fill="#049c04"/><circle cx="354.5" cy="120.1" r="4.1" fill="#049c04"/><circle cx="304.9" cy="196.6" r="4.1" fill="#a434f0"/><circle cx="390.7" cy="157.2" r="4.1" fill="#049c04"/><circle cx="176.2" cy="254.4" r="4.1" fill="#8a8a8c"/><circle cx="271.0" cy="173.6" r="4.1" fill="#a434f0"/><circle cx="319.6" cy="245.9" r="4.1" fill="#ff860a"/><circle cx="188.6" cy="186.4" r="4.1" fill="#8a8a8c"/><circle cx="349.2" cy="263.7" r="4.1" fill="#ff860a"/><circle cx="346.9" cy="161.8" r="4.1" fill="#049c04"/><use href="#st" x="191.9" y="201.8" fill="#cacaca"/><circle cx="171.9" cy="224.2" r="4.1" fill="#8a8a8c"/><circle cx="304.7" cy="268.1" r="4.1" fill="#f00008"/><circle cx="296.3" cy="224.4" r="4.1" fill="#f00008"/><circle cx="314.4" cy="187.6" r="4.1" fill="#a434f0"/><circle cx="328.3" cy="177.5" r="4.1" fill="#049c04"/><circle cx="312.6" cy="196.3" r="4.1" fill="#f00008"/><circle cx="350.4" cy="277.4" r="4.1" fill="#ff860a"/><circle cx="180.7" cy="183.8" r="4.1" fill="#8a8a8c"/><circle cx="380.5" cy="172.4" r="4.1" fill="#049c04"/><circle cx="357.7" cy="202.8" r="4.1" fill="#049c04"/><circle cx="154.0" cy="137.8" r="4.1" fill="#8a8a8c"/><circle cx="348.6" cy="129.3" r="4.1" fill="#049c04"/><circle cx="399.0" cy="263.4" r="4.1" fill="#ff860a"/><circle cx="379.6" cy="242.8" r="4.1" fill="#049c04"/><circle cx="218.2" cy="274.9" r="4.1" fill="#8a8a8c"/><circle cx="287.5" cy="233.1" r="4.1" fill="#f00008"/><use href="#st" x="321.8" y="111.5" fill="#f0aaf8"/><circle cx="345.8" cy="110.4" r="4.1" fill="#049c04"/><circle cx="148.9" cy="226.4" r="4.1" fill="#8a8a8c"/><circle cx="298.4" cy="233.9" r="4.1" fill="#ff860a"/><circle cx="360.6" cy="300.8" r="4.1" fill="#ff860a"/><circle cx="310.2" cy="256.7" r="4.1" fill="#f00008"/><circle cx="318.7" cy="200.5" r="4.1" fill="#a434f0"/><circle cx="399.3" cy="88.5" r="4.1" fill="#049c04"/><circle cx="295.9" cy="170.2" r="4.1" fill="#a434f0"/><circle cx="337.5" cy="210.8" r="4.1" fill="#049c04"/><circle cx="202.5" cy="168.2" r="4.1" fill="#8a8a8c"/><circle cx="306.2" cy="257.8" r="4.1" fill="#ff860a"/><circle cx="338.2" cy="217.4" r="4.1" fill="#ff860a"/><circle cx="320.0" cy="255.2" r="4.1" fill="#ff860a"/><circle cx="304.8" cy="203.4" r="4.1" fill="#a434f0"/><circle cx="264.5" cy="181.8" r="4.1" fill="#a434f0"/><circle cx="190.0" cy="242.4" r="4.1" fill="#8a8a8c"/><circle cx="198.7" cy="169.2" r="4.1" fill="#8a8a8c"/><use href="#st" x="170.9" y="246.8" fill="#cacaca"/><circle cx="293.9" cy="246.7" r="4.1" fill="#f00008"/><circle cx="343.6" cy="235.2" r="4.1" fill="#ff860a"/><circle cx="413.1" cy="204.8" r="4.1" fill="#049c04"/><circle cx="307.1" cy="180.2" r="4.1" fill="#a434f0"/><circle cx="267.9" cy="170.8" r="4.1" fill="#a434f0"/><circle cx="202.4" cy="183.5" r="4.1" fill="#8a8a8c"/><circle cx="320.5" cy="166.4" r="4.1" fill="#a434f0"/><circle cx="208.1" cy="172.2" r="4.1" fill="#8a8a8c"/><circle cx="306.9" cy="144.0" r="4.1" fill="#a434f0"/><circle cx="227.3" cy="225.5" r="4.1" fill="#8a8a8c"/><circle cx="320.4" cy="180.3" r="4.1" fill="#a434f0"/><circle cx="193.5" cy="199.0" r="4.1" fill="#8a8a8c"/><circle cx="396.7" cy="240.3" r="4.1" fill="#049c04"/><circle cx="310.7" cy="247.3" r="4.1" fill="#f00008"/><circle cx="378.8" cy="129.1" r="4.1" fill="#049c04"/><circle cx="361.0" cy="103.8" r="4.1" fill="#049c04"/><circle cx="229.0" cy="216.2" r="4.1" fill="#8a8a8c"/><circle cx="325.4" cy="279.0" r="4.1" fill="#ff860a"/><circle cx="351.6" cy="136.3" r="4.1" fill="#049c04"/><circle cx="146.1" cy="182.4" r="4.1" fill="#8a8a8c"/><circle cx="360.5" cy="234.1" r="4.1" fill="#ff860a"/><circle cx="373.0" cy="297.6" r="4.1" fill="#ff860a"/><circle cx="369.5" cy="298.3" r="4.1" fill="#ff860a"/><circle cx="369.2" cy="155.8" r="4.1" fill="#049c04"/><circle cx="309.6" cy="251.9" r="4.1" fill="#f00008"/><circle cx="301.6" cy="244.8" r="4.1" fill="#f00008"/><circle cx="359.0" cy="308.0" r="4.1" fill="#ff860a"/><circle cx="411.8" cy="201.3" r="4.1" fill="#049c04"/><circle cx="178.7" cy="235.9" r="4.1" fill="#8a8a8c"/><circle cx="349.3" cy="269.4" r="4.1" fill="#ff860a"/><circle cx="372.1" cy="194.8" r="4.1" fill="#049c04"/><circle cx="394.0" cy="231.3" r="4.1" fill="#f00008"/><circle cx="281.1" cy="210.2" r="4.1" fill="#a434f0"/><circle cx="163.7" cy="174.2" r="4.1" fill="#8a8a8c"/><circle cx="375.7" cy="213.0" r="4.1" fill="#049c04"/><circle cx="357.4" cy="176.2" r="4.1" fill="#049c04"/><circle cx="338.0" cy="245.4" r="4.1" fill="#ff860a"/><circle cx="310.4" cy="123.3" r="4.1" fill="#a434f0"/><circle cx="300.7" cy="142.5" r="4.1" fill="#a434f0"/><circle cx="364.0" cy="228.4" r="4.1" fill="#ff860a"/><circle cx="394.7" cy="139.2" r="4.1" fill="#049c04"/><circle cx="291.8" cy="242.1" r="4.1" fill="#f00008"/><circle cx="301.3" cy="219.5" r="4.1" fill="#f00008"/><circle cx="369.6" cy="276.0" r="4.1" fill="#ff860a"/><circle cx="212.5" cy="208.3" r="4.1" fill="#8a8a8c"/><circle cx="179.3" cy="202.2" r="4.1" fill="#8a8a8c"/><circle cx="185.4" cy="209.2" r="4.1" fill="#8a8a8c"/><circle cx="322.6" cy="260.4" r="4.1" fill="#ff860a"/><circle cx="174.9" cy="177.0" r="4.1" fill="#8a8a8c"/><circle cx="360.3" cy="179.6" r="4.1" fill="#049c04"/><circle cx="194.8" cy="255.8" r="4.1" fill="#8a8a8c"/><circle cx="191.0" cy="255.1" r="4.1" fill="#8a8a8c"/><circle cx="320.9" cy="126.5" r="4.1" fill="#a434f0"/><circle cx="332.4" cy="211.8" r="4.1" fill="#ff860a"/><circle cx="387.4" cy="161.3" r="4.1" fill="#049c04"/><circle cx="285.8" cy="199.7" r="4.1" fill="#a434f0"/><circle cx="328.2" cy="230.2" r="4.1" fill="#ff860a"/><circle cx="375.5" cy="249.5" r="4.1" fill="#ff860a"/><circle cx="381.6" cy="116.9" r="4.1" fill="#049c04"/><circle cx="356.2" cy="302.9" r="4.1" fill="#ff860a"/><circle cx="318.0" cy="131.0" r="4.1" fill="#a434f0"/><circle cx="360.3" cy="165.3" r="4.1" fill="#049c04"/><circle cx="337.4" cy="206.6" r="4.1" fill="#ff860a"/><circle cx="382.5" cy="148.9" r="4.1" fill="#049c04"/><use href="#st" x="214.7" y="174.1" fill="#cacaca"/><circle cx="385.8" cy="237.9" r="4.1" fill="#049c04"/><circle cx="350.5" cy="123.6" r="4.1" fill="#049c04"/><circle cx="338.8" cy="197.7" r="4.1" fill="#049c04"/><circle cx="217.8" cy="159.0" r="4.1" fill="#8a8a8c"/><circle cx="181.8" cy="230.8" r="4.1" fill="#8a8a8c"/><circle cx="191.6" cy="173.3" r="4.1" fill="#8a8a8c"/><circle cx="378.2" cy="253.1" r="4.1" fill="#ff860a"/><use href="#st" x="276.3" y="238.0" fill="#f0aaf8"/><circle cx="404.2" cy="180.9" r="4.1" fill="#049c04"/><circle cx="324.4" cy="278.4" r="4.1" fill="#ff860a"/><circle cx="354.7" cy="260.1" r="4.1" fill="#ff860a"/><circle cx="345.7" cy="186.5" r="4.1" fill="#049c04"/><circle cx="296.5" cy="210.4" r="4.1" fill="#a434f0"/><circle cx="165.7" cy="266.1" r="4.1" fill="#8a8a8c"/><circle cx="269.5" cy="155.4" r="4.1" fill="#a434f0"/><circle cx="161.2" cy="234.9" r="4.1" fill="#8a8a8c"/><circle cx="202.9" cy="242.0" r="4.1" fill="#8a8a8c"/><circle cx="238.4" cy="246.0" r="4.1" fill="#8a8a8c"/><circle cx="400.8" cy="152.0" r="4.1" fill="#049c04"/><circle cx="334.8" cy="277.8" r="4.1" fill="#ff860a"/><circle cx="364.5" cy="256.8" r="4.1" fill="#f00008"/><circle cx="364.4" cy="195.4" r="4.1" fill="#049c04"/><circle cx="389.4" cy="241.0" r="4.1" fill="#049c04"/><circle cx="287.9" cy="123.9" r="4.1" fill="#a434f0"/><circle cx="173.1" cy="249.9" r="4.1" fill="#8a8a8c"/><circle cx="335.7" cy="269.5" r="4.1" fill="#ff860a"/><circle cx="357.3" cy="138.7" r="4.1" fill="#049c04"/><circle cx="386.4" cy="225.3" r="4.1" fill="#049c04"/><circle cx="382.6" cy="180.9" r="4.1" fill="#049c04"/><circle cx="367.1" cy="273.9" r="4.1" fill="#ff860a"/><circle cx="380.3" cy="237.8" r="4.1" fill="#ff860a"/><circle cx="205.2" cy="254.9" r="4.1" fill="#8a8a8c"/><circle cx="305.2" cy="287.8" r="4.1" fill="#f00008"/><circle cx="360.5" cy="243.7" r="4.1" fill="#ff860a"/><circle cx="358.5" cy="291.9" r="4.1" fill="#ff860a"/><circle cx="323.8" cy="219.2" r="4.1" fill="#f00008"/><circle cx="203.4" cy="236.3" r="4.1" fill="#8a8a8c"/><circle cx="380.3" cy="295.5" r="4.1" fill="#ff860a"/><circle cx="415.9" cy="195.5" r="4.1" fill="#049c04"/><use href="#st" x="174.6" y="232.9" fill="#cacaca"/><circle cx="159.3" cy="231.1" r="4.1" fill="#8a8a8c"/><circle cx="408.4" cy="205.0" r="4.1" fill="#049c04"/><circle cx="371.9" cy="115.3" r="4.1" fill="#049c04"/><circle cx="182.6" cy="252.2" r="4.1" fill="#8a8a8c"/><circle cx="315.4" cy="220.5" r="4.1" fill="#f00008"/><circle cx="371.8" cy="253.6" r="4.1" fill="#ff860a"/><circle cx="200.2" cy="224.7" r="4.1" fill="#8a8a8c"/><circle cx="175.9" cy="251.4" r="4.1" fill="#8a8a8c"/><circle cx="335.2" cy="135.7" r="4.1" fill="#a434f0"/><circle cx="345.6" cy="285.7" r="4.1" fill="#ff860a"/><circle cx="307.1" cy="259.2" r="4.1" fill="#f00008"/><circle cx="292.5" cy="242.0" r="4.1" fill="#f00008"/><circle cx="228.2" cy="197.3" r="4.1" fill="#8a8a8c"/><circle cx="194.2" cy="238.7" r="4.1" fill="#8a8a8c"/><circle cx="308.3" cy="247.0" r="4.1" fill="#f00008"/><use href="#st" x="310.6" y="227.6" fill="#f09898"/><circle cx="197.4" cy="260.5" r="4.1" fill="#8a8a8c"/><circle cx="160.7" cy="210.3" r="4.1" fill="#8a8a8c"/><circle cx="203.4" cy="172.6" r="4.1" fill="#8a8a8c"/><circle cx="258.6" cy="200.0" r="4.1" fill="#a434f0"/><circle cx="397.7" cy="168.0" r="4.1" fill="#049c04"/><circle cx="303.8" cy="204.9" r="4.1" fill="#a434f0"/><circle cx="382.7" cy="244.1" r="4.1" fill="#ff860a"/><circle cx="286.1" cy="178.8" r="4.1" fill="#a434f0"/><circle cx="288.7" cy="150.2" r="4.1" fill="#a434f0"/><circle cx="206.0" cy="282.8" r="4.1" fill="#8a8a8c"/><circle cx="169.0" cy="202.5" r="4.1" fill="#8a8a8c"/><circle cx="284.2" cy="134.1" r="4.1" fill="#a434f0"/><circle cx="300.1" cy="146.7" r="4.1" fill="#a434f0"/><circle cx="327.8" cy="154.3" r="4.1" fill="#049c04"/><circle cx="351.8" cy="143.5" r="4.1" fill="#049c04"/><circle cx="371.7" cy="287.0" r="4.1" fill="#ff860a"/><circle cx="281.1" cy="204.0" r="4.1" fill="#a434f0"/><circle cx="317.5" cy="248.9" r="4.1" fill="#ff860a"/><circle cx="158.4" cy="182.2" r="4.1" fill="#8a8a8c"/><circle cx="242.6" cy="231.5" r="4.1" fill="#8a8a8c"/><circle cx="351.7" cy="92.3" r="4.1" fill="#049c04"/><circle cx="175.2" cy="192.9" r="4.1" fill="#8a8a8c"/><circle cx="349.6" cy="281.5" r="4.1" fill="#ff860a"/><circle cx="297.9" cy="193.4" r="4.1" fill="#a434f0"/><circle cx="325.6" cy="302.3" r="4.1" fill="#f00008"/><circle cx="331.6" cy="149.4" r="4.1" fill="#a434f0"/><circle cx="323.4" cy="276.8" r="4.1" fill="#ff860a"/><circle cx="313.1" cy="260.5" r="4.1" fill="#f00008"/><circle cx="344.3" cy="244.5" r="4.1" fill="#ff860a"/><circle cx="336.8" cy="242.8" r="4.1" fill="#ff860a"/><circle cx="217.8" cy="212.6" r="4.1" fill="#8a8a8c"/><circle cx="257.5" cy="240.8" r="4.1" fill="#8a8a8c"/><circle cx="294.2" cy="142.2" r="4.1" fill="#a434f0"/><circle cx="331.2" cy="206.6" r="4.1" fill="#ff860a"/><circle cx="292.2" cy="151.8" r="4.1" fill="#a434f0"/><circle cx="332.9" cy="327.3" r="4.1" fill="#ff860a"/><circle cx="189.9" cy="275.1" r="4.1" fill="#8a8a8c"/><circle cx="309.9" cy="198.2" r="4.1" fill="#a434f0"/><circle cx="376.5" cy="155.4" r="4.1" fill="#049c04"/><circle cx="345.4" cy="147.5" r="4.1" fill="#049c04"/><use href="#st" x="313.8" y="201.0" fill="#f09898"/><circle cx="338.7" cy="294.5" r="4.1" fill="#ff860a"/><circle cx="321.1" cy="150.3" r="4.1" fill="#a434f0"/><circle cx="346.6" cy="156.0" r="4.1" fill="#049c04"/><circle cx="160.1" cy="237.9" r="4.1" fill="#8a8a8c"/><circle cx="332.4" cy="150.5" r="4.1" fill="#049c04"/><circle cx="314.6" cy="254.0" r="4.1" fill="#ff860a"/><circle cx="296.2" cy="121.2" r="4.1" fill="#a434f0"/><circle cx="204.5" cy="277.0" r="4.1" fill="#8a8a8c"/><circle cx="340.4" cy="195.6" r="4.1" fill="#049c04"/><circle cx="358.9" cy="170.6" r="4.1" fill="#049c04"/><use href="#st" x="165.3" y="251.7" fill="#cacaca"/><circle cx="374.8" cy="156.2" r="4.1" fill="#049c04"/><circle cx="367.9" cy="287.8" r="4.1" fill="#ff860a"/><circle cx="304.0" cy="253.3" r="4.1" fill="#f00008"/><circle cx="309.6" cy="262.0" r="4.1" fill="#f00008"/><circle cx="386.3" cy="210.6" r="4.1" fill="#049c04"/><circle cx="363.6" cy="117.5" r="4.1" fill="#049c04"/><circle cx="291.6" cy="237.4" r="4.1" fill="#f00008"/><circle cx="384.1" cy="265.1" r="4.1" fill="#ff860a"/><circle cx="343.6" cy="160.8" r="4.1" fill="#049c04"/><circle cx="311.3" cy="284.6" r="4.1" fill="#f00008"/><circle cx="402.8" cy="159.3" r="4.1" fill="#049c04"/><circle cx="335.7" cy="177.8" r="4.1" fill="#049c04"/><circle cx="357.6" cy="145.2" r="4.1" fill="#049c04"/><circle cx="337.3" cy="213.9" r="4.1" fill="#049c04"/><use href="#st" x="157.2" y="244.4" fill="#cacaca"/><use href="#st" x="302.5" y="235.8" fill="#f09898"/><circle cx="307.0" cy="242.1" r="4.1" fill="#f00008"/><circle cx="334.4" cy="227.5" r="4.1" fill="#f00008"/><circle cx="336.8" cy="185.3" r="4.1" fill="#049c04"/><circle cx="311.6" cy="279.9" r="4.1" fill="#f00008"/><circle cx="329.0" cy="199.9" r="4.1" fill="#049c04"/><circle cx="378.6" cy="199.4" r="4.1" fill="#049c04"/><circle cx="342.8" cy="244.3" r="4.1" fill="#f00008"/><circle cx="308.9" cy="289.5" r="4.1" fill="#f00008"/><circle cx="293.1" cy="254.4" r="4.1" fill="#f00008"/><circle cx="298.0" cy="233.0" r="4.1" fill="#f00008"/><circle cx="373.7" cy="246.8" r="4.1" fill="#ff860a"/><circle cx="336.7" cy="179.9" r="4.1" fill="#049c04"/><circle cx="323.4" cy="293.4" r="4.1" fill="#f00008"/><circle cx="316.3" cy="297.2" r="4.1" fill="#f00008"/><circle cx="363.5" cy="145.9" r="4.1" fill="#049c04"/><circle cx="374.2" cy="91.8" r="4.1" fill="#049c04"/><circle cx="334.8" cy="316.0" r="4.1" fill="#ff860a"/><circle cx="323.1" cy="224.9" r="4.1" fill="#f00008"/><circle cx="372.0" cy="116.3" r="4.1" fill="#049c04"/><circle cx="375.5" cy="205.0" r="4.1" fill="#ff860a"/><circle cx="337.7" cy="300.5" r="4.1" fill="#f00008"/><use href="#st" x="198.9" y="264.6" fill="#cacaca"/><circle cx="378.8" cy="246.2" r="4.1" fill="#ff860a"/><circle cx="400.0" cy="127.7" r="4.1" fill="#049c04"/><circle cx="358.8" cy="130.1" r="4.1" fill="#049c04"/><circle cx="307.4" cy="187.7" r="4.1" fill="#f00008"/><circle cx="371.9" cy="122.8" r="4.1" fill="#049c04"/><circle cx="410.1" cy="182.3" r="4.1" fill="#049c04"/><circle cx="391.4" cy="135.3" r="4.1" fill="#049c04"/><circle cx="340.4" cy="289.6" r="4.1" fill="#ff860a"/><circle cx="343.1" cy="264.1" r="4.1" fill="#ff860a"/><circle cx="355.5" cy="260.2" r="4.1" fill="#ff860a"/><circle cx="294.2" cy="221.3" r="4.1" fill="#f00008"/><circle cx="378.1" cy="194.7" r="4.1" fill="#049c04"/><circle cx="385.8" cy="282.4" r="4.1" fill="#ff860a"/><circle cx="360.0" cy="263.2" r="4.1" fill="#ff860a"/><circle cx="343.4" cy="272.0" r="4.1" fill="#ff860a"/><circle cx="383.9" cy="294.5" r="4.1" fill="#ff860a"/><circle cx="311.8" cy="243.1" r="4.1" fill="#f00008"/><use href="#st" x="309.6" y="145.2" fill="#f0aaf8"/><circle cx="306.1" cy="215.6" r="4.1" fill="#f00008"/><circle cx="391.4" cy="197.1" r="4.1" fill="#049c04"/><circle cx="393.9" cy="166.5" r="4.1" fill="#049c04"/><circle cx="315.2" cy="214.6" r="4.1" fill="#f00008"/><circle cx="360.5" cy="302.5" r="4.1" fill="#ff860a"/><circle cx="380.7" cy="185.0" r="4.1" fill="#049c04"/><circle cx="324.2" cy="151.0" r="4.1" fill="#049c04"/><circle cx="359.0" cy="279.1" r="4.1" fill="#ff860a"/><circle cx="387.1" cy="226.5" r="4.1" fill="#049c04"/><circle cx="367.6" cy="182.6" r="4.1" fill="#049c04"/><circle cx="356.2" cy="172.5" r="4.1" fill="#049c04"/><circle cx="376.7" cy="237.5" r="4.1" fill="#ff860a"/><circle cx="378.5" cy="87.5" r="4.1" fill="#049c04"/><circle cx="371.7" cy="293.4" r="4.1" fill="#f00008"/><circle cx="359.1" cy="268.7" r="4.1" fill="#ff860a"/><circle cx="349.5" cy="256.1" r="4.1" fill="#ff860a"/><circle cx="350.5" cy="272.6" r="4.1" fill="#ff860a"/><circle cx="392.4" cy="191.0" r="4.1" fill="#049c04"/><circle cx="369.1" cy="192.8" r="4.1" fill="#049c04"/><circle cx="397.3" cy="191.8" r="4.1" fill="#049c04"/><circle cx="394.2" cy="188.1" r="4.1" fill="#049c04"/><circle cx="359.4" cy="248.4" r="4.1" fill="#ff860a"/><circle cx="366.5" cy="135.6" r="4.1" fill="#049c04"/><circle cx="348.3" cy="272.9" r="4.1" fill="#ff860a"/><circle cx="361.5" cy="301.6" r="4.1" fill="#ff860a"/><circle cx="422.0" cy="147.6" r="4.1" fill="#049c04"/><circle cx="402.8" cy="147.0" r="4.1" fill="#049c04"/><circle cx="392.7" cy="119.0" r="4.1" fill="#049c04"/><circle cx="369.7" cy="126.7" r="4.1" fill="#049c04"/><circle cx="313.7" cy="213.4" r="4.1" fill="#f00008"/><circle cx="340.9" cy="175.9" r="4.1" fill="#049c04"/><use href="#st" x="151.6" y="217.1" fill="#cacaca"/><circle cx="340.2" cy="232.0" r="4.1" fill="#f00008"/><circle cx="301.0" cy="286.0" r="4.1" fill="#f00008"/><circle cx="381.4" cy="229.0" r="4.1" fill="#049c04"/><circle cx="363.8" cy="307.8" r="4.1" fill="#ff860a"/><circle cx="364.0" cy="120.4" r="4.1" fill="#049c04"/><circle cx="330.5" cy="278.9" r="4.1" fill="#ff860a"/><circle cx="381.4" cy="296.4" r="4.1" fill="#ff860a"/><circle cx="323.3" cy="278.9" r="4.1" fill="#ff860a"/><circle cx="384.2" cy="250.1" r="4.1" fill="#ff860a"/><circle cx="368.7" cy="228.3" r="4.1" fill="#049c04"/><circle cx="320.0" cy="272.6" r="4.1" fill="#f00008"/><circle cx="344.3" cy="301.2" r="4.1" fill="#f00008"/><circle cx="325.8" cy="254.6" r="4.1" fill="#ff860a"/><use href="#st" x="200.2" y="226.1" fill="#cacaca"/><circle cx="368.8" cy="117.0" r="4.1" fill="#049c04"/><use href="#st" x="290.7" y="223.5" fill="#f09898"/><use href="#st" x="319.7" y="234.8" fill="#f09898"/><circle cx="331.0" cy="173.6" r="4.1" fill="#049c04"/><circle cx="341.0" cy="193.4" r="4.1" fill="#049c04"/><circle cx="357.8" cy="148.4" r="4.1" fill="#049c04"/><circle cx="314.6" cy="233.0" r="4.1" fill="#f00008"/><circle cx="392.4" cy="130.8" r="4.1" fill="#049c04"/><circle cx="330.4" cy="177.6" r="4.1" fill="#049c04"/><circle cx="340.1" cy="222.7" r="4.1" fill="#ff860a"/><circle cx="340.2" cy="200.6" r="4.1" fill="#ff860a"/><circle cx="344.4" cy="257.8" r="4.1" fill="#ff860a"/><use href="#st" x="274.5" y="154.7" fill="#f0aaf8"/><circle cx="378.5" cy="106.0" r="4.1" fill="#049c04"/><use href="#st" x="283.6" y="202.2" fill="#f0aaf8"/><circle cx="332.0" cy="274.3" r="4.1" fill="#ff860a"/><circle cx="298.6" cy="233.8" r="4.1" fill="#f00008"/><circle cx="288.9" cy="238.9" r="4.1" fill="#f00008"/><circle cx="309.6" cy="221.8" r="4.1" fill="#f00008"/><circle cx="332.7" cy="197.2" r="4.1" fill="#049c04"/><circle cx="384.5" cy="297.4" r="4.1" fill="#ff860a"/><circle cx="403.5" cy="204.5" r="4.1" fill="#049c04"/><circle cx="343.5" cy="255.2" r="4.1" fill="#ff860a"/><circle cx="390.5" cy="126.1" r="4.1" fill="#049c04"/><use href="#st" x="231.5" y="198.6" fill="#cacaca"/><circle cx="331.2" cy="253.5" r="4.1" fill="#ff860a"/><circle cx="397.4" cy="169.4" r="4.1" fill="#049c04"/><use href="#st" x="324.0" y="153.0" fill="#a0ec68"/><circle cx="392.5" cy="217.5" r="4.1" fill="#049c04"/><circle cx="369.2" cy="304.1" r="4.1" fill="#ff860a"/><circle cx="341.1" cy="220.9" r="4.1" fill="#ff860a"/><circle cx="328.9" cy="230.3" r="4.1" fill="#ff860a"/><circle cx="295.6" cy="241.7" r="4.1" fill="#f00008"/><circle cx="335.3" cy="137.7" r="4.1" fill="#049c04"/><circle cx="348.7" cy="165.0" r="4.1" fill="#049c04"/><use href="#st" x="268.4" y="198.6" fill="#f0aaf8"/><use href="#st" x="394.9" y="204.2" fill="#a0ec68"/><circle cx="321.2" cy="240.7" r="4.1" fill="#f00008"/><circle cx="395.6" cy="127.5" r="4.1" fill="#049c04"/><circle cx="371.4" cy="285.4" r="4.1" fill="#ff860a"/><use href="#st" x="367.6" y="147.4" fill="#a0ec68"/><circle cx="394.9" cy="142.3" r="4.1" fill="#049c04"/><circle cx="343.0" cy="307.8" r="4.1" fill="#ff860a"/><circle cx="385.1" cy="267.0" r="4.1" fill="#ff860a"/><circle cx="291.3" cy="233.1" r="4.1" fill="#f00008"/><circle cx="311.0" cy="258.1" r="4.1" fill="#f00008"/><use href="#st" x="440.4" y="191.2" fill="#a0ec68"/><circle cx="381.9" cy="287.7" r="4.1" fill="#ff860a"/><circle cx="376.5" cy="141.9" r="4.1" fill="#049c04"/><circle cx="364.0" cy="217.9" r="4.1" fill="#049c04"/><circle cx="297.0" cy="245.0" r="4.1" fill="#f00008"/><circle cx="340.4" cy="224.6" r="4.1" fill="#ff860a"/><use href="#st" x="168.6" y="217.9" fill="#cacaca"/><circle cx="349.9" cy="286.0" r="4.1" fill="#ff860a"/><circle cx="407.1" cy="146.1" r="4.1" fill="#049c04"/><circle cx="370.0" cy="161.6" r="4.1" fill="#049c04"/><use href="#st" x="332.4" y="181.1" fill="#a0ec68"/><use href="#st" x="328.4" y="115.8" fill="#f0aaf8"/><circle cx="363.1" cy="210.2" r="4.1" fill="#ff860a"/><circle cx="318.4" cy="260.9" r="4.1" fill="#ff860a"/><circle cx="320.1" cy="284.8" r="4.1" fill="#f00008"/><circle cx="389.8" cy="293.2" r="4.1" fill="#ff860a"/><use href="#st" x="341.1" y="182.3" fill="#a0ec68"/><circle cx="333.9" cy="295.3" r="4.1" fill="#f00008"/><circle cx="372.5" cy="172.1" r="4.1" fill="#049c04"/><circle cx="279.3" cy="245.6" r="4.1" fill="#f00008"/><circle cx="375.1" cy="298.5" r="4.1" fill="#ff860a"/><circle cx="370.8" cy="307.7" r="4.1" fill="#ff860a"/><circle cx="330.4" cy="287.9" r="4.1" fill="#f00008"/><circle cx="361.9" cy="123.7" r="4.1" fill="#049c04"/><circle cx="331.2" cy="157.1" r="4.1" fill="#049c04"/><use href="#st" x="370.4" y="118.4" fill="#a0ec68"/><circle cx="329.4" cy="269.7" r="4.1" fill="#ff860a"/><circle cx="396.6" cy="139.2" r="4.1" fill="#049c04"/><circle cx="321.1" cy="280.1" r="4.1" fill="#f00008"/><circle cx="353.1" cy="218.7" r="4.1" fill="#049c04"/><circle cx="387.2" cy="250.4" r="4.1" fill="#ff860a"/><circle cx="378.5" cy="95.0" r="4.1" fill="#049c04"/><circle cx="307.7" cy="233.7" r="4.1" fill="#f00008"/><circle cx="305.6" cy="191.5" r="4.1" fill="#ff860a"/><circle cx="332.5" cy="267.9" r="4.1" fill="#ff860a"/><circle cx="336.7" cy="143.8" r="4.1" fill="#049c04"/><circle cx="318.5" cy="236.9" r="4.1" fill="#f00008"/><circle cx="369.4" cy="137.6" r="4.1" fill="#049c04"/><circle cx="327.8" cy="274.8" r="4.1" fill="#ff860a"/><circle cx="393.8" cy="90.7" r="4.1" fill="#049c04"/><use href="#st" x="389.2" y="263.3" fill="#a0ec68"/><use href="#st" x="326.0" y="296.5" fill="#f09898"/><circle cx="401.2" cy="154.0" r="4.1" fill="#049c04"/><circle cx="361.9" cy="254.8" r="4.1" fill="#ff860a"/><circle cx="400.9" cy="200.7" r="4.1" fill="#049c04"/><circle cx="358.9" cy="237.1" r="4.1" fill="#ff860a"/><circle cx="395.2" cy="148.2" r="4.1" fill="#049c04"/><use href="#st" x="164.7" y="220.8" fill="#cacaca"/><circle cx="286.2" cy="222.5" r="4.1" fill="#f00008"/><circle cx="393.0" cy="127.3" r="4.1" fill="#049c04"/><circle cx="348.0" cy="141.3" r="4.1" fill="#049c04"/><circle cx="337.4" cy="205.2" r="4.1" fill="#049c04"/><circle cx="321.8" cy="273.1" r="4.1" fill="#ff860a"/><circle cx="390.3" cy="171.1" r="4.1" fill="#049c04"/><circle cx="301.3" cy="236.7" r="4.1" fill="#f00008"/><circle cx="386.6" cy="286.1" r="4.1" fill="#ff860a"/><circle cx="310.9" cy="213.2" r="4.1" fill="#f00008"/><circle cx="377.5" cy="74.8" r="4.1" fill="#049c04"/><circle cx="357.5" cy="128.7" r="4.1" fill="#049c04"/><circle cx="319.9" cy="257.7" r="4.1" fill="#ff860a"/><circle cx="369.5" cy="263.9" r="4.1" fill="#ff860a"/><use href="#st" x="287.5" y="247.8" fill="#f09898"/><use href="#st" x="405.8" y="192.0" fill="#a0ec68"/><circle cx="374.4" cy="199.4" r="4.1" fill="#ff860a"/><circle cx="379.2" cy="237.0" r="4.1" fill="#ff860a"/><circle cx="373.6" cy="305.3" r="4.1" fill="#ff860a"/><circle cx="390.6" cy="144.9" r="4.1" fill="#049c04"/><use href="#st" x="435.0" y="165.6" fill="#a0ec68"/><circle cx="325.6" cy="224.3" r="4.1" fill="#ff860a"/><circle cx="350.0" cy="237.3" r="4.1" fill="#ff860a"/><circle cx="378.6" cy="330.4" r="4.1" fill="#ff860a"/><circle cx="368.5" cy="196.2" r="4.1" fill="#049c04"/><circle cx="381.9" cy="243.4" r="4.1" fill="#049c04"/><circle cx="352.4" cy="241.9" r="4.1" fill="#ff860a"/><circle cx="324.4" cy="278.9" r="4.1" fill="#f00008"/><circle cx="355.9" cy="211.5" r="4.1" fill="#049c04"/><circle cx="325.2" cy="274.7" r="4.1" fill="#ff860a"/><circle cx="393.6" cy="199.3" r="4.1" fill="#049c04"/><circle cx="370.5" cy="284.4" r="4.1" fill="#ff860a"/><circle cx="363.8" cy="250.0" r="4.1" fill="#ff860a"/><circle cx="331.9" cy="215.5" r="4.1" fill="#ff860a"/><circle cx="353.3" cy="210.6" r="4.1" fill="#049c04"/><circle cx="392.8" cy="261.0" r="4.1" fill="#049c04"/><use href="#st" x="339.5" y="180.7" fill="#a0ec68"/><circle cx="301.1" cy="275.4" r="4.1" fill="#f00008"/><circle cx="314.0" cy="222.6" r="4.1" fill="#f00008"/><circle cx="348.6" cy="142.4" r="4.1" fill="#049c04"/><circle cx="386.2" cy="221.8" r="4.1" fill="#ff860a"/><circle cx="388.8" cy="164.0" r="4.1" fill="#049c04"/><use href="#st" x="387.5" y="143.6" fill="#a0ec68"/><use href="#st" x="275.3" y="183.3" fill="#f0aaf8"/><circle cx="363.9" cy="124.3" r="4.1" fill="#049c04"/><circle cx="287.3" cy="246.8" r="4.1" fill="#f00008"/><use href="#st" x="358.8" y="228.5" fill="#f8c860"/><circle cx="333.2" cy="259.9" r="4.1" fill="#ff860a"/><circle cx="352.9" cy="115.2" r="4.1" fill="#049c04"/><circle cx="362.6" cy="159.5" r="4.1" fill="#049c04"/><use href="#st" x="389.8" y="138.2" fill="#a0ec68"/><circle cx="381.8" cy="217.6" r="4.1" fill="#ff860a"/><circle cx="319.0" cy="266.4" r="4.1" fill="#ff860a"/><circle cx="316.8" cy="299.6" r="4.1" fill="#f00008"/><circle cx="370.1" cy="225.0" r="4.1" fill="#049c04"/><circle cx="391.4" cy="253.4" r="4.1" fill="#049c04"/><circle cx="283.8" cy="266.5" r="4.1" fill="#f00008"/><circle cx="310.4" cy="239.4" r="4.1" fill="#f00008"/><circle cx="399.9" cy="220.9" r="4.1" fill="#049c04"/><circle cx="347.2" cy="278.1" r="4.1" fill="#ff860a"/><circle cx="378.4" cy="113.2" r="4.1" fill="#049c04"/><circle cx="367.2" cy="303.3" r="4.1" fill="#ff860a"/><circle cx="331.9" cy="161.1" r="4.1" fill="#049c04"/><circle cx="368.1" cy="166.5" r="4.1" fill="#049c04"/><circle cx="385.5" cy="222.5" r="4.1" fill="#049c04"/><circle cx="322.1" cy="294.0" r="4.1" fill="#f00008"/><circle cx="378.7" cy="244.9" r="4.1" fill="#ff860a"/><circle cx="303.4" cy="270.5" r="4.1" fill="#f00008"/><circle cx="362.4" cy="213.6" r="4.1" fill="#049c04"/><circle cx="344.9" cy="237.0" r="4.1" fill="#ff860a"/><circle cx="324.3" cy="164.5" r="4.1" fill="#049c04"/><circle cx="391.9" cy="221.4" r="4.1" fill="#049c04"/><circle cx="323.8" cy="248.2" r="4.1" fill="#ff860a"/><circle cx="376.5" cy="143.5" r="4.1" fill="#049c04"/><use href="#st" x="317.9" y="206.3" fill="#f09898"/><circle cx="368.2" cy="141.4" r="4.1" fill="#049c04"/><circle cx="390.9" cy="216.4" r="4.1" fill="#049c04"/><circle cx="336.6" cy="301.1" r="4.1" fill="#ff860a"/><circle cx="318.2" cy="280.1" r="4.1" fill="#f00008"/><circle cx="392.4" cy="261.5" r="4.1" fill="#049c04"/><circle cx="289.7" cy="239.1" r="4.1" fill="#f00008"/><circle cx="389.9" cy="198.9" r="4.1" fill="#049c04"/><circle cx="398.8" cy="205.9" r="4.1" fill="#049c04"/><circle cx="296.3" cy="227.3" r="4.1" fill="#f00008"/><circle cx="370.5" cy="210.9" r="4.1" fill="#ff860a"/><circle cx="402.5" cy="185.8" r="4.1" fill="#049c04"/><circle cx="365.0" cy="131.9" r="4.1" fill="#049c04"/><circle cx="354.3" cy="153.5" r="4.1" fill="#049c04"/><circle cx="301.8" cy="206.8" r="4.1" fill="#f00008"/><use href="#st" x="277.2" y="192.1" fill="#f0aaf8"/><circle cx="381.8" cy="237.7" r="4.1" fill="#ff860a"/><use href="#st" x="150.0" y="216.5" fill="#cacaca"/><use href="#st" x="398.1" y="123.6" fill="#a0ec68"/><circle cx="369.2" cy="155.6" r="4.1" fill="#049c04"/><use href="#st" x="200.4" y="257.4" fill="#cacaca"/><use href="#st" x="385.6" y="126.3" fill="#a0ec68"/><use href="#st" x="358.3" y="163.8" fill="#a0ec68"/><circle cx="367.8" cy="263.7" r="4.1" fill="#ff860a"/><use href="#st" x="307.4" y="139.9" fill="#f0aaf8"/><use href="#st" x="215.8" y="228.6" fill="#cacaca"/><use href="#st" x="170.6" y="257.2" fill="#cacaca"/><circle cx="337.9" cy="256.4" r="4.1" fill="#ff860a"/><circle cx="326.9" cy="274.5" r="4.1" fill="#ff860a"/><circle cx="398.8" cy="200.1" r="4.1" fill="#049c04"/><circle cx="297.1" cy="214.3" r="4.1" fill="#f00008"/><circle cx="349.8" cy="173.2" r="4.1" fill="#049c04"/><circle cx="387.9" cy="136.0" r="4.1" fill="#049c04"/><circle cx="344.2" cy="121.9" r="4.1" fill="#049c04"/><circle cx="313.2" cy="239.8" r="4.1" fill="#f00008"/><circle cx="312.4" cy="279.6" r="4.1" fill="#f00008"/><circle cx="321.1" cy="272.1" r="4.1" fill="#f00008"/><circle cx="361.4" cy="116.3" r="4.1" fill="#049c04"/><circle cx="340.8" cy="212.4" r="4.1" fill="#ff860a"/><circle cx="341.9" cy="132.4" r="4.1" fill="#049c04"/><circle cx="348.4" cy="124.2" r="4.1" fill="#049c04"/><circle cx="386.9" cy="208.8" r="4.1" fill="#ff860a"/><circle cx="399.2" cy="145.5" r="4.1" fill="#049c04"/><circle cx="334.7" cy="317.6" r="4.1" fill="#ff860a"/><circle cx="359.4" cy="241.7" r="4.1" fill="#ff860a"/><circle cx="332.7" cy="134.6" r="4.1" fill="#049c04"/><circle cx="331.4" cy="295.0" r="4.1" fill="#f00008"/><circle cx="347.3" cy="118.8" r="4.1" fill="#049c04"/><circle cx="382.5" cy="143.6" r="4.1" fill="#049c04"/><circle cx="360.9" cy="174.7" r="4.1" fill="#049c04"/><circle cx="355.8" cy="321.4" r="4.1" fill="#ff860a"/><circle cx="404.8" cy="210.4" r="4.1" fill="#049c04"/><circle cx="304.7" cy="261.8" r="4.1" fill="#f00008"/><circle cx="374.3" cy="279.1" r="4.1" fill="#ff860a"/><circle cx="360.3" cy="276.2" r="4.1" fill="#ff860a"/><circle cx="383.9" cy="194.1" r="4.1" fill="#049c04"/><circle cx="298.6" cy="212.3" r="4.1" fill="#f00008"/><circle cx="331.2" cy="225.6" r="4.1" fill="#ff860a"/><circle cx="380.4" cy="184.5" r="4.1" fill="#049c04"/><circle cx="389.3" cy="195.7" r="4.1" fill="#049c04"/><use href="#st" x="302.4" y="139.9" fill="#f0aaf8"/><circle cx="368.1" cy="143.0" r="4.1" fill="#049c04"/><circle cx="324.7" cy="223.0" r="4.1" fill="#ff860a"/><circle cx="366.1" cy="210.3" r="4.1" fill="#049c04"/><circle cx="311.7" cy="219.9" r="4.1" fill="#f00008"/><circle cx="352.5" cy="299.9" r="4.1" fill="#ff860a"/><circle cx="347.3" cy="179.6" r="4.1" fill="#049c04"/><circle cx="292.4" cy="246.4" r="4.1" fill="#f00008"/><use href="#st" x="425.0" y="170.7" fill="#a0ec68"/><circle cx="389.7" cy="192.8" r="4.1" fill="#049c04"/><use href="#st" x="343.2" y="185.2" fill="#a0ec68"/><circle cx="314.6" cy="261.9" r="4.1" fill="#f00008"/><circle cx="332.3" cy="190.4" r="4.1" fill="#049c04"/><circle cx="347.9" cy="161.5" r="4.1" fill="#049c04"/><use href="#st" x="427.6" y="147.6" fill="#a0ec68"/><circle cx="368.6" cy="203.1" r="4.1" fill="#049c04"/><circle cx="377.2" cy="217.4" r="4.1" fill="#ff860a"/><circle cx="358.1" cy="307.8" r="4.1" fill="#ff860a"/><circle cx="325.2" cy="297.8" r="4.1" fill="#f00008"/><circle cx="349.0" cy="248.8" r="4.1" fill="#ff860a"/><circle cx="329.1" cy="176.1" r="4.1" fill="#049c04"/><circle cx="312.1" cy="222.5" r="4.1" fill="#f00008"/><circle cx="359.3" cy="274.0" r="4.1" fill="#ff860a"/><circle cx="330.3" cy="225.1" r="4.1" fill="#ff860a"/><circle cx="339.3" cy="255.3" r="4.1" fill="#ff860a"/><circle cx="289.5" cy="227.3" r="4.1" fill="#f00008"/><circle cx="318.4" cy="220.4" r="4.1" fill="#ff860a"/><circle cx="383.5" cy="257.2" r="4.1" fill="#ff860a"/><circle cx="324.1" cy="292.2" r="4.1" fill="#f00008"/><circle cx="377.4" cy="294.7" r="4.1" fill="#ff860a"/><circle cx="338.3" cy="253.5" r="4.1" fill="#ff860a"/><circle cx="370.7" cy="152.3" r="4.1" fill="#049c04"/><circle cx="390.0" cy="282.9" r="4.1" fill="#ff860a"/><use href="#st" x="341.6" y="189.8" fill="#a0ec68"/><circle cx="297.6" cy="242.1" r="4.1" fill="#f00008"/><use href="#st" x="355.9" y="253.7" fill="#f8c860"/><circle cx="410.1" cy="189.9" r="4.1" fill="#049c04"/><circle cx="368.9" cy="214.3" r="4.1" fill="#049c04"/><circle cx="340.8" cy="138.4" r="4.1" fill="#049c04"/><circle cx="383.6" cy="227.3" r="4.1" fill="#049c04"/><circle cx="356.2" cy="268.5" r="4.1" fill="#ff860a"/><circle cx="309.0" cy="247.8" r="4.1" fill="#f00008"/><circle cx="376.8" cy="208.8" r="4.1" fill="#049c04"/><circle cx="355.9" cy="199.2" r="4.1" fill="#ff860a"/><circle cx="375.4" cy="138.4" r="4.1" fill="#049c04"/><use href="#st" x="314.2" y="238.4" fill="#f09898"/><use href="#st" x="326.0" y="164.6" fill="#f0aaf8"/><circle cx="405.9" cy="197.4" r="4.1" fill="#049c04"/><circle cx="397.7" cy="173.7" r="4.1" fill="#049c04"/><circle cx="328.5" cy="227.9" r="4.1" fill="#ff860a"/><circle cx="297.2" cy="218.2" r="4.1" fill="#f00008"/><circle cx="364.9" cy="163.2" r="4.1" fill="#049c04"/><circle cx="411.3" cy="194.4" r="4.1" fill="#049c04"/><circle cx="384.0" cy="95.0" r="4.1" fill="#049c04"/><circle cx="389.3" cy="253.8" r="4.1" fill="#049c04"/><circle cx="380.3" cy="170.7" r="4.1" fill="#049c04"/><circle cx="305.4" cy="190.4" r="4.1" fill="#ff860a"/><circle cx="381.5" cy="281.2" r="4.1" fill="#ff860a"/><circle cx="378.3" cy="177.1" r="4.1" fill="#049c04"/><circle cx="393.2" cy="124.0" r="4.1" fill="#049c04"/><circle cx="333.5" cy="242.4" r="4.1" fill="#ff860a"/><circle cx="376.1" cy="229.1" r="4.1" fill="#049c04"/><circle cx="365.1" cy="295.9" r="4.1" fill="#ff860a"/><circle cx="381.4" cy="302.7" r="4.1" fill="#ff860a"/><circle cx="367.0" cy="283.2" r="4.1" fill="#ff860a"/><use href="#st" x="386.6" y="127.9" fill="#a0ec68"/><circle cx="353.6" cy="119.8" r="4.1" fill="#049c04"/><circle cx="386.2" cy="277.6" r="4.1" fill="#ff860a"/><circle cx="358.2" cy="181.5" r="4.1" fill="#049c04"/><circle cx="333.2" cy="142.2" r="4.1" fill="#049c04"/><circle cx="375.8" cy="131.2" r="4.1" fill="#049c04"/><use href="#st" x="370.5" y="268.2" fill="#f8c860"/><circle cx="369.8" cy="97.3" r="4.1" fill="#049c04"/><circle cx="363.2" cy="276.9" r="4.1" fill="#ff860a"/><circle cx="364.4" cy="253.5" r="4.1" fill="#ff860a"/><circle cx="339.0" cy="192.0" r="4.1" fill="#049c04"/><circle cx="363.2" cy="271.5" r="4.1" fill="#ff860a"/><use href="#st" x="358.5" y="147.2" fill="#a0ec68"/><circle cx="333.8" cy="290.5" r="4.1" fill="#ff860a"/><circle cx="357.3" cy="281.8" r="4.1" fill="#ff860a"/><circle cx="380.1" cy="234.6" r="4.1" fill="#049c04"/><circle cx="352.0" cy="175.9" r="4.1" fill="#049c04"/><circle cx="367.5" cy="235.9" r="4.1" fill="#ff860a"/><circle cx="383.0" cy="233.8" r="4.1" fill="#ff860a"/><circle cx="345.6" cy="164.8" r="4.1" fill="#049c04"/><circle cx="379.2" cy="304.0" r="4.1" fill="#ff860a"/><circle cx="346.3" cy="239.0" r="4.1" fill="#ff860a"/><circle cx="380.6" cy="136.7" r="4.1" fill="#049c04"/><circle cx="352.7" cy="199.2" r="4.1" fill="#049c04"/><circle cx="376.8" cy="126.3" r="4.1" fill="#049c04"/><circle cx="377.4" cy="192.3" r="4.1" fill="#049c04"/><circle cx="366.9" cy="222.7" r="4.1" fill="#ff860a"/><use href="#st" x="202.3" y="265.4" fill="#cacaca"/><circle cx="385.8" cy="185.8" r="4.1" fill="#049c04"/><circle cx="377.0" cy="218.0" r="4.1" fill="#049c04"/><circle cx="320.9" cy="236.3" r="4.1" fill="#ff860a"/><circle cx="344.6" cy="311.6" r="4.1" fill="#ff860a"/><circle cx="362.9" cy="107.7" r="4.1" fill="#049c04"/><circle cx="375.3" cy="224.4" r="4.1" fill="#049c04"/><circle cx="392.8" cy="180.8" r="4.1" fill="#049c04"/><circle cx="330.7" cy="249.7" r="4.1" fill="#ff860a"/><circle cx="359.5" cy="159.3" r="4.1" fill="#049c04"/><use href="#st" x="181.3" y="242.7" fill="#cacaca"/><use href="#st" x="407.6" y="212.7" fill="#a0ec68"/><use href="#st" x="183.2" y="264.9" fill="#cacaca"/><circle cx="365.2" cy="244.0" r="4.1" fill="#ff860a"/><circle cx="378.7" cy="253.3" r="4.1" fill="#049c04"/><circle cx="340.0" cy="215.8" r="4.1" fill="#049c04"/><circle cx="359.0" cy="227.9" r="4.1" fill="#ff860a"/><use href="#st" x="250.4" y="296.0" fill="#cacaca"/><circle cx="358.7" cy="170.8" r="4.1" fill="#049c04"/><use href="#st" x="351.6" y="224.7" fill="#f8c860"/><circle cx="386.0" cy="167.9" r="4.1" fill="#049c04"/><use href="#st" x="324.9" y="270.7" fill="#f8c860"/><circle cx="382.7" cy="283.9" r="4.1" fill="#ff860a"/><use href="#st" x="369.7" y="110.7" fill="#a0ec68"/><use href="#st" x="359.4" y="209.7" fill="#a0ec68"/><circle cx="328.4" cy="166.6" r="4.1" fill="#049c04"/><circle cx="292.7" cy="215.3" r="4.1" fill="#ff860a"/><circle cx="349.2" cy="193.4" r="4.1" fill="#049c04"/><circle cx="369.3" cy="207.9" r="4.1" fill="#ff860a"/><circle cx="372.8" cy="279.0" r="4.1" fill="#ff860a"/><circle cx="370.8" cy="142.2" r="4.1" fill="#049c04"/><circle cx="366.9" cy="212.3" r="4.1" fill="#ff860a"/><circle cx="408.7" cy="147.6" r="4.1" fill="#049c04"/><use href="#st" x="382.6" y="274.0" fill="#f8c860"/><circle cx="374.6" cy="252.4" r="4.1" fill="#ff860a"/><circle cx="377.9" cy="275.2" r="4.1" fill="#ff860a"/><use href="#st" x="324.0" y="111.8" fill="#f0aaf8"/><circle cx="337.0" cy="225.3" r="4.1" fill="#ff860a"/><circle cx="375.9" cy="267.0" r="4.1" fill="#ff860a"/><circle cx="305.8" cy="258.4" r="4.1" fill="#ff860a"/><circle cx="376.7" cy="259.9" r="4.1" fill="#ff860a"/><circle cx="377.1" cy="171.9" r="4.1" fill="#049c04"/><circle cx="331.2" cy="238.9" r="4.1" fill="#ff860a"/><circle cx="400.5" cy="263.3" r="4.1" fill="#ff860a"/><circle cx="338.9" cy="199.8" r="4.1" fill="#049c04"/><circle cx="372.1" cy="205.1" r="4.1" fill="#049c04"/><circle cx="375.4" cy="213.4" r="4.1" fill="#ff860a"/><circle cx="355.7" cy="141.7" r="4.1" fill="#049c04"/><circle cx="348.5" cy="245.0" r="4.1" fill="#ff860a"/><circle cx="367.8" cy="175.1" r="4.1" fill="#049c04"/><circle cx="384.0" cy="176.1" r="4.1" fill="#049c04"/><circle cx="350.2" cy="196.4" r="4.1" fill="#049c04"/><circle cx="355.6" cy="248.0" r="4.1" fill="#ff860a"/><circle cx="346.9" cy="296.7" r="4.1" fill="#ff860a"/><circle cx="379.4" cy="270.9" r="4.1" fill="#ff860a"/><circle cx="350.9" cy="173.8" r="4.1" fill="#049c04"/><circle cx="346.2" cy="247.8" r="4.1" fill="#ff860a"/><circle cx="376.2" cy="153.0" r="4.1" fill="#049c04"/><circle cx="340.2" cy="202.2" r="4.1" fill="#ff860a"/><circle cx="334.7" cy="239.8" r="4.1" fill="#ff860a"/><circle cx="373.5" cy="292.8" r="4.1" fill="#ff860a"/><circle cx="340.6" cy="200.2" r="4.1" fill="#049c04"/><circle cx="380.0" cy="243.5" r="4.1" fill="#ff860a"/><use href="#st" x="326.7" y="290.2" fill="#f09898"/><circle cx="371.4" cy="271.7" r="4.1" fill="#ff860a"/><circle cx="360.5" cy="261.7" r="4.1" fill="#ff860a"/><circle cx="379.3" cy="252.8" r="4.1" fill="#049c04"/><circle cx="356.4" cy="193.9" r="4.1" fill="#049c04"/><circle cx="369.5" cy="254.4" r="4.1" fill="#ff860a"/><circle cx="341.7" cy="268.5" r="4.1" fill="#ff860a"/><circle cx="413.7" cy="189.0" r="4.1" fill="#049c04"/><circle cx="392.9" cy="208.4" r="4.1" fill="#ff860a"/><circle cx="388.3" cy="134.5" r="4.1" fill="#049c04"/><circle cx="366.1" cy="172.0" r="4.1" fill="#049c04"/><use href="#st" x="336.9" y="228.9" fill="#f8c860"/><circle cx="366.1" cy="180.6" r="4.1" fill="#049c04"/><use href="#st" x="395.4" y="206.7" fill="#a0ec68"/><circle cx="366.2" cy="242.7" r="4.1" fill="#ff860a"/><circle cx="371.9" cy="238.8" r="4.1" fill="#ff860a"/><circle cx="389.9" cy="186.0" r="4.1" fill="#049c04"/><circle cx="388.2" cy="147.4" r="4.1" fill="#049c04"/><circle cx="408.0" cy="125.7" r="4.1" fill="#049c04"/><use href="#st" x="367.4" y="212.3" fill="#a0ec68"/><circle cx="332.0" cy="249.4" r="4.1" fill="#ff860a"/><circle cx="389.1" cy="181.3" r="4.1" fill="#049c04"/><use href="#st" x="302.3" y="183.5" fill="#f0aaf8"/><circle cx="384.1" cy="219.2" r="4.1" fill="#049c04"/><circle cx="372.9" cy="244.5" r="4.1" fill="#ff860a"/><circle cx="339.0" cy="257.6" r="4.1" fill="#ff860a"/><circle cx="384.4" cy="133.4" r="4.1" fill="#049c04"/><circle cx="380.5" cy="255.3" r="4.1" fill="#ff860a"/><circle cx="344.8" cy="175.3" r="4.1" fill="#049c04"/><use href="#st" x="293.5" y="145.1" fill="#f0aaf8"/><circle cx="360.5" cy="205.4" r="4.1" fill="#049c04"/><circle cx="347.1" cy="274.5" r="4.1" fill="#ff860a"/><circle cx="399.4" cy="223.4" r="4.1" fill="#ff860a"/><use href="#st" x="336.6" y="151.1" fill="#a0ec68"/><circle cx="378.2" cy="301.7" r="4.1" fill="#ff860a"/><circle cx="335.6" cy="140.7" r="4.1" fill="#049c04"/><circle cx="398.4" cy="126.7" r="4.1" fill="#049c04"/><use href="#st" x="371.4" y="242.2" fill="#f8c860"/><circle cx="346.5" cy="92.3" r="4.1" fill="#049c04"/><circle cx="376.0" cy="316.3" r="4.1" fill="#ff860a"/><circle cx="333.2" cy="289.2" r="4.1" fill="#ff860a"/><circle cx="342.4" cy="261.6" r="4.1" fill="#ff860a"/><circle cx="385.1" cy="253.7" r="4.1" fill="#049c04"/><circle cx="395.1" cy="122.4" r="4.1" fill="#049c04"/><use href="#st" x="235.5" y="216.2" fill="#cacaca"/><use href="#st" x="269.6" y="203.9" fill="#f0aaf8"/><use href="#st" x="379.6" y="79.8" fill="#a0ec68"/><circle cx="384.1" cy="159.9" r="4.1" fill="#049c04"/><circle cx="389.2" cy="123.7" r="4.1" fill="#049c04"/><circle cx="370.3" cy="130.8" r="4.1" fill="#049c04"/><circle cx="362.4" cy="268.8" r="4.1" fill="#ff860a"/><circle cx="334.8" cy="231.6" r="4.1" fill="#ff860a"/><circle cx="325.5" cy="264.3" r="4.1" fill="#ff860a"/><use href="#st" x="164.1" y="201.7" fill="#cacaca"/><circle cx="381.6" cy="214.6" r="4.1" fill="#049c04"/><use href="#st" x="300.9" y="212.7" fill="#f09898"/><circle cx="343.4" cy="204.7" r="4.1" fill="#049c04"/><use href="#st" x="187.9" y="236.3" fill="#cacaca"/><circle cx="406.3" cy="171.0" r="4.1" fill="#049c04"/><use href="#st" x="324.3" y="290.6" fill="#f09898"/><circle cx="355.8" cy="171.1" r="4.1" fill="#049c04"/><circle cx="380.6" cy="301.1" r="4.1" fill="#ff860a"/><circle cx="376.7" cy="153.2" r="4.1" fill="#049c04"/><circle cx="318.7" cy="249.9" r="4.1" fill="#ff860a"/><circle cx="415.5" cy="127.5" r="4.1" fill="#049c04"/><circle cx="321.9" cy="255.5" r="4.1" fill="#ff860a"/><circle cx="338.4" cy="256.2" r="4.1" fill="#ff860a"/><circle cx="350.6" cy="124.9" r="4.1" fill="#049c04"/><circle cx="386.2" cy="89.6" r="4.1" fill="#049c04"/><circle cx="286.0" cy="221.5" r="4.1" fill="#ff860a"/><circle cx="343.5" cy="300.5" r="4.1" fill="#ff860a"/><use href="#st" x="334.4" y="152.8" fill="#a0ec68"/><circle cx="397.8" cy="155.0" r="4.1" fill="#049c04"/><use href="#st" x="310.1" y="266.3" fill="#f09898"/><circle cx="371.4" cy="211.9" r="4.1" fill="#049c04"/><circle cx="385.4" cy="164.1" r="4.1" fill="#049c04"/><circle cx="399.5" cy="132.3" r="4.1" fill="#049c04"/><circle cx="400.7" cy="208.5" r="4.1" fill="#049c04"/><circle cx="380.2" cy="239.1" r="4.1" fill="#ff860a"/><circle cx="379.3" cy="249.9" r="4.1" fill="#ff860a"/><circle cx="325.5" cy="218.5" r="4.1" fill="#ff860a"/><circle cx="370.6" cy="175.1" r="4.1" fill="#049c04"/><circle cx="335.9" cy="146.2" r="4.1" fill="#049c04"/><circle cx="402.0" cy="142.8" r="4.1" fill="#049c04"/><circle cx="325.3" cy="229.4" r="4.1" fill="#ff860a"/><use href="#st" x="332.9" y="224.2" fill="#f8c860"/><circle cx="394.4" cy="149.5" r="4.1" fill="#049c04"/><circle cx="370.3" cy="278.9" r="4.1" fill="#ff860a"/><circle cx="389.5" cy="102.7" r="4.1" fill="#049c04"/><circle cx="361.7" cy="141.7" r="4.1" fill="#049c04"/><circle cx="377.9" cy="264.7" r="4.1" fill="#ff860a"/><circle cx="337.1" cy="252.0" r="4.1" fill="#ff860a"/><circle cx="384.9" cy="309.6" r="4.1" fill="#ff860a"/><use href="#st" x="313.5" y="248.0" fill="#f09898"/><circle cx="380.3" cy="209.7" r="4.1" fill="#ff860a"/><circle cx="341.6" cy="199.1" r="4.1" fill="#ff860a"/><circle cx="361.2" cy="288.2" r="4.1" fill="#ff860a"/><use href="#st" x="425.0" y="136.0" fill="#a0ec68"/><circle cx="383.2" cy="191.9" r="4.1" fill="#049c04"/><circle cx="402.0" cy="163.8" r="4.1" fill="#049c04"/><circle cx="376.2" cy="308.0" r="4.1" fill="#ff860a"/><circle cx="341.5" cy="231.6" r="4.1" fill="#ff860a"/><circle cx="349.8" cy="232.7" r="4.1" fill="#ff860a"/><circle cx="342.6" cy="135.0" r="4.1" fill="#049c04"/><circle cx="389.8" cy="131.8" r="4.1" fill="#049c04"/><circle cx="338.9" cy="238.1" r="4.1" fill="#ff860a"/><circle cx="396.0" cy="215.9" r="4.1" fill="#049c04"/><circle cx="379.0" cy="283.0" r="4.1" fill="#ff860a"/><circle cx="341.3" cy="148.3" r="4.1" fill="#049c04"/><circle cx="337.2" cy="143.6" r="4.1" fill="#049c04"/><circle cx="364.2" cy="126.8" r="4.1" fill="#049c04"/><circle cx="345.5" cy="276.7" r="4.1" fill="#ff860a"/><circle cx="366.7" cy="257.1" r="4.1" fill="#ff860a"/><circle cx="366.5" cy="212.0" r="4.1" fill="#049c04"/><circle cx="332.8" cy="167.5" r="4.1" fill="#049c04"/><use href="#st" x="178.0" y="227.7" fill="#cacaca"/><circle cx="390.6" cy="166.4" r="4.1" fill="#049c04"/><circle cx="341.2" cy="139.0" r="4.1" fill="#049c04"/><circle cx="356.7" cy="181.8" r="4.1" fill="#049c04"/><circle cx="393.3" cy="203.9" r="4.1" fill="#049c04"/><circle cx="353.6" cy="291.3" r="4.1" fill="#ff860a"/><circle cx="324.9" cy="190.0" r="4.1" fill="#049c04"/><circle cx="355.4" cy="261.5" r="4.1" fill="#ff860a"/><circle cx="363.8" cy="167.2" r="4.1" fill="#049c04"/><circle cx="331.7" cy="265.8" r="4.1" fill="#ff860a"/><circle cx="343.4" cy="202.9" r="4.1" fill="#ff860a"/><circle cx="326.7" cy="203.9" r="4.1" fill="#049c04"/><circle cx="348.8" cy="258.0" r="4.1" fill="#ff860a"/><circle cx="368.8" cy="280.9" r="4.1" fill="#ff860a"/><circle cx="380.7" cy="115.4" r="4.1" fill="#049c04"/><circle cx="369.4" cy="221.2" r="4.1" fill="#ff860a"/><circle cx="365.7" cy="167.3" r="4.1" fill="#049c04"/><use href="#st" x="373.8" y="186.9" fill="#a0ec68"/><circle cx="367.3" cy="188.0" r="4.1" fill="#049c04"/><circle cx="348.2" cy="266.8" r="4.1" fill="#ff860a"/><circle cx="368.6" cy="154.3" r="4.1" fill="#049c04"/><circle cx="336.1" cy="266.4" r="4.1" fill="#ff860a"/><circle cx="333.9" cy="244.8" r="4.1" fill="#ff860a"/><circle cx="345.9" cy="290.0" r="4.1" fill="#ff860a"/><circle cx="329.9" cy="209.5" r="4.1" fill="#049c04"/><circle cx="359.7" cy="161.8" r="4.1" fill="#049c04"/><circle cx="332.7" cy="235.6" r="4.1" fill="#ff860a"/><circle cx="356.8" cy="137.8" r="4.1" fill="#049c04"/><circle cx="349.6" cy="118.2" r="4.1" fill="#049c04"/><circle cx="360.8" cy="291.7" r="4.1" fill="#ff860a"/><use href="#st" x="346.0" y="227.9" fill="#f8c860"/><circle cx="372.1" cy="175.6" r="4.1" fill="#049c04"/><circle cx="340.9" cy="134.0" r="4.1" fill="#049c04"/><circle cx="385.0" cy="271.0" r="4.1" fill="#049c04"/><circle cx="334.3" cy="149.8" r="4.1" fill="#049c04"/><use href="#st" x="402.7" y="176.0" fill="#a0ec68"/><circle cx="344.2" cy="137.9" r="4.1" fill="#049c04"/><circle cx="411.8" cy="201.4" r="4.1" fill="#049c04"/><circle cx="364.9" cy="245.4" r="4.1" fill="#ff860a"/><circle cx="341.1" cy="297.7" r="4.1" fill="#ff860a"/><circle cx="384.0" cy="243.3" r="4.1" fill="#049c04"/><circle cx="363.5" cy="258.2" r="4.1" fill="#ff860a"/><circle cx="366.6" cy="126.7" r="4.1" fill="#049c04"/><circle cx="363.2" cy="213.0" r="4.1" fill="#049c04"/><circle cx="367.1" cy="251.8" r="4.1" fill="#ff860a"/><circle cx="410.8" cy="212.6" r="4.1" fill="#049c04"/><circle cx="353.0" cy="150.7" r="4.1" fill="#049c04"/><circle cx="344.4" cy="291.0" r="4.1" fill="#ff860a"/><circle cx="353.9" cy="146.1" r="4.1" fill="#049c04"/><circle cx="328.5" cy="251.1" r="4.1" fill="#ff860a"/><circle cx="405.7" cy="224.0" r="4.1" fill="#ff860a"/><use href="#st" x="347.6" y="132.8" fill="#a0ec68"/><circle cx="340.5" cy="193.5" r="4.1" fill="#049c04"/><circle cx="366.9" cy="341.3" r="4.1" fill="#ff860a"/><circle cx="344.4" cy="127.2" r="4.1" fill="#049c04"/><circle cx="351.0" cy="216.3" r="4.1" fill="#049c04"/><circle cx="340.4" cy="283.2" r="4.1" fill="#ff860a"/><circle cx="378.4" cy="236.6" r="4.1" fill="#ff860a"/><circle cx="373.7" cy="166.1" r="4.1" fill="#049c04"/><circle cx="305.6" cy="218.5" r="4.1" fill="#ff860a"/><circle cx="373.6" cy="286.4" r="4.1" fill="#ff860a"/><circle cx="334.9" cy="88.5" r="4.1" fill="#049c04"/><circle cx="410.3" cy="280.7" r="4.1" fill="#ff860a"/><circle cx="418.5" cy="204.4" r="4.1" fill="#049c04"/><circle cx="363.2" cy="207.3" r="4.1" fill="#049c04"/><circle cx="409.9" cy="185.1" r="4.1" fill="#049c04"/><use href="#st" x="434.0" y="165.5" fill="#a0ec68"/><use href="#st" x="309.3" y="225.3" fill="#f09898"/><circle cx="334.7" cy="251.9" r="4.1" fill="#ff860a"/><circle cx="330.6" cy="155.5" r="4.1" fill="#049c04"/><circle cx="405.3" cy="149.9" r="4.1" fill="#049c04"/><circle cx="329.2" cy="147.6" r="4.1" fill="#049c04"/><circle cx="344.5" cy="145.4" r="4.1" fill="#049c04"/><circle cx="383.8" cy="138.9" r="4.1" fill="#049c04"/><circle cx="363.3" cy="242.5" r="4.1" fill="#ff860a"/><circle cx="382.4" cy="209.3" r="4.1" fill="#049c04"/><circle cx="376.0" cy="264.0" r="4.1" fill="#ff860a"/><circle cx="331.8" cy="201.3" r="4.1" fill="#049c04"/><circle cx="405.1" cy="186.7" r="4.1" fill="#049c04"/><circle cx="325.5" cy="228.0" r="4.1" fill="#ff860a"/><use href="#st" x="361.6" y="183.0" fill="#a0ec68"/><circle cx="385.6" cy="116.9" r="4.1" fill="#049c04"/><circle cx="399.1" cy="144.5" r="4.1" fill="#049c04"/><circle cx="395.0" cy="181.9" r="4.1" fill="#049c04"/><use href="#st" x="299.5" y="194.5" fill="#f09898"/><circle cx="317.3" cy="255.7" r="4.1" fill="#ff860a"/><circle cx="326.5" cy="235.7" r="4.1" fill="#ff860a"/><circle cx="403.6" cy="150.8" r="4.1" fill="#049c04"/><circle cx="342.3" cy="284.3" r="4.1" fill="#ff860a"/><circle cx="381.8" cy="113.0" r="4.1" fill="#049c04"/><circle cx="394.4" cy="124.3" r="4.1" fill="#049c04"/><circle cx="362.7" cy="189.3" r="4.1" fill="#049c04"/><circle cx="348.2" cy="301.3" r="4.1" fill="#ff860a"/><circle cx="360.1" cy="229.0" r="4.1" fill="#ff860a"/><use href="#st" x="310.0" y="205.0" fill="#f09898"/><circle cx="328.0" cy="243.3" r="4.1" fill="#ff860a"/><circle cx="374.6" cy="135.5" r="4.1" fill="#049c04"/><circle cx="326.7" cy="215.0" r="4.1" fill="#ff860a"/><use href="#st" x="384.1" y="238.4" fill="#a0ec68"/><circle cx="376.2" cy="194.1" r="4.1" fill="#049c04"/><circle cx="358.9" cy="151.0" r="4.1" fill="#049c04"/><circle cx="366.0" cy="189.1" r="4.1" fill="#049c04"/><circle cx="353.7" cy="283.5" r="4.1" fill="#ff860a"/><use href="#st" x="380.4" y="249.3" fill="#a0ec68"/><circle cx="346.3" cy="269.0" r="4.1" fill="#ff860a"/><circle cx="341.7" cy="277.1" r="4.1" fill="#ff860a"/><use href="#st" x="380.9" y="220.6" fill="#a0ec68"/><use href="#st" x="379.7" y="225.5" fill="#a0ec68"/><circle cx="406.0" cy="223.8" r="4.1" fill="#ff860a"/><use href="#st" x="343.5" y="211.1" fill="#a0ec68"/><use href="#st" x="293.6" y="253.7" fill="#f09898"/><use href="#st" x="417.0" y="161.6" fill="#a0ec68"/><circle cx="334.7" cy="282.4" r="4.1" fill="#ff860a"/><circle cx="362.6" cy="240.1" r="4.1" fill="#ff860a"/><use href="#st" x="404.6" y="196.7" fill="#a0ec68"/><circle cx="369.4" cy="245.4" r="4.1" fill="#ff860a"/><circle cx="304.0" cy="206.5" r="4.1" fill="#ff860a"/><circle cx="337.8" cy="273.8" r="4.1" fill="#ff860a"/><circle cx="377.3" cy="281.4" r="4.1" fill="#ff860a"/><circle cx="372.6" cy="302.2" r="4.1" fill="#ff860a"/><circle cx="348.9" cy="262.9" r="4.1" fill="#ff860a"/><use href="#st" x="422.4" y="199.0" fill="#a0ec68"/><circle cx="363.4" cy="270.0" r="4.1" fill="#ff860a"/><circle cx="358.9" cy="245.8" r="4.1" fill="#ff860a"/><use href="#st" x="389.6" y="133.3" fill="#a0ec68"/><use href="#st" x="326.4" y="209.4" fill="#f8c860"/><circle cx="371.6" cy="291.3" r="4.1" fill="#ff860a"/><use href="#st" x="354.7" y="197.2" fill="#a0ec68"/><circle cx="338.6" cy="270.2" r="4.1" fill="#ff860a"/><use href="#st" x="351.2" y="192.3" fill="#a0ec68"/><circle cx="352.5" cy="289.6" r="4.1" fill="#ff860a"/><use href="#st" x="312.0" y="151.8" fill="#a0ec68"/><circle cx="339.3" cy="249.5" r="4.1" fill="#ff860a"/><circle cx="362.6" cy="290.7" r="4.1" fill="#ff860a"/><circle cx="328.2" cy="235.5" r="4.1" fill="#ff860a"/><use href="#st" x="389.1" y="244.8" fill="#a0ec68"/><use href="#st" x="339.2" y="155.1" fill="#a0ec68"/><circle cx="344.1" cy="290.6" r="4.1" fill="#ff860a"/><circle cx="328.7" cy="269.9" r="4.1" fill="#ff860a"/><use href="#st" x="352.0" y="131.4" fill="#a0ec68"/><circle cx="339.4" cy="234.8" r="4.1" fill="#ff860a"/><use href="#st" x="366.3" y="168.9" fill="#a0ec68"/><circle cx="333.3" cy="304.0" r="4.1" fill="#ff860a"/><use href="#st" x="329.0" y="177.4" fill="#a0ec68"/><use href="#st" x="360.4" y="262.1" fill="#f8c860"/><circle cx="356.0" cy="322.2" r="4.1" fill="#ff860a"/><circle cx="330.2" cy="243.6" r="4.1" fill="#ff860a"/><use href="#st" x="362.9" y="154.9" fill="#a0ec68"/><use href="#st" x="396.0" y="195.2" fill="#a0ec68"/><use href="#st" x="388.1" y="175.5" fill="#a0ec68"/><circle cx="383.2" cy="290.3" r="4.1" fill="#ff860a"/><circle cx="350.0" cy="285.4" r="4.1" fill="#ff860a"/><use href="#st" x="401.1" y="214.3" fill="#a0ec68"/><circle cx="349.9" cy="248.4" r="4.1" fill="#ff860a"/><circle cx="382.5" cy="263.0" r="4.1" fill="#ff860a"/><circle cx="331.8" cy="275.1" r="4.1" fill="#ff860a"/><circle cx="370.1" cy="306.8" r="4.1" fill="#ff860a"/><use href="#st" x="363.9" y="244.0" fill="#f8c860"/><circle cx="328.3" cy="231.7" r="4.1" fill="#ff860a"/><circle cx="319.7" cy="248.5" r="4.1" fill="#ff860a"/><use href="#st" x="373.0" y="224.1" fill="#a0ec68"/><use href="#st" x="337.9" y="196.8" fill="#a0ec68"/><circle cx="370.2" cy="277.2" r="4.1" fill="#ff860a"/><use href="#st" x="318.7" y="226.2" fill="#f09898"/><circle cx="351.5" cy="230.2" r="4.1" fill="#ff860a"/><circle cx="354.6" cy="234.5" r="4.1" fill="#ff860a"/><circle cx="358.0" cy="252.6" r="4.1" fill="#ff860a"/><circle cx="345.9" cy="268.4" r="4.1" fill="#ff860a"/><circle cx="364.4" cy="249.1" r="4.1" fill="#ff860a"/><circle cx="351.0" cy="297.0" r="4.1" fill="#ff860a"/><circle cx="343.9" cy="224.5" r="4.1" fill="#ff860a"/><use href="#st" x="310.0" y="197.5" fill="#f09898"/><circle cx="323.5" cy="277.9" r="4.1" fill="#ff860a"/><circle cx="371.5" cy="278.7" r="4.1" fill="#ff860a"/><circle cx="380.7" cy="250.4" r="4.1" fill="#ff860a"/><circle cx="376.1" cy="259.9" r="4.1" fill="#ff860a"/><circle cx="322.2" cy="242.1" r="4.1" fill="#ff860a"/><circle cx="318.4" cy="257.7" r="4.1" fill="#ff860a"/><circle cx="327.0" cy="285.2" r="4.1" fill="#ff860a"/><use href="#st" x="296.5" y="247.0" fill="#f09898"/><circle cx="351.0" cy="289.8" r="4.1" fill="#ff860a"/><circle cx="325.4" cy="237.3" r="4.1" fill="#ff860a"/><circle cx="368.9" cy="279.4" r="4.1" fill="#ff860a"/><circle cx="368.8" cy="237.2" r="4.1" fill="#ff860a"/><circle cx="344.6" cy="269.4" r="4.1" fill="#ff860a"/><circle cx="386.7" cy="249.6" r="4.1" fill="#ff860a"/><use href="#st" x="356.1" y="287.4" fill="#f8c860"/><use href="#st" x="381.5" y="158.2" fill="#a0ec68"/><circle cx="327.5" cy="258.4" r="4.1" fill="#ff860a"/><use href="#st" x="362.8" y="183.8" fill="#a0ec68"/><use href="#st" x="368.2" y="134.0" fill="#a0ec68"/><use href="#st" x="380.5" y="213.2" fill="#a0ec68"/><use href="#st" x="371.1" y="189.3" fill="#a0ec68"/><use href="#st" x="325.9" y="181.2" fill="#a0ec68"/><use href="#st" x="363.7" y="300.0" fill="#f8c860"/><use href="#st" x="328.5" y="187.2" fill="#a0ec68"/><use href="#st" x="395.6" y="225.9" fill="#a0ec68"/><use href="#st" x="356.7" y="242.1" fill="#f8c860"/><use href="#st" x="373.1" y="226.8" fill="#a0ec68"/><use href="#st" x="363.9" y="122.9" fill="#a0ec68"/><use href="#st" x="356.4" y="291.6" fill="#f8c860"/><use href="#st" x="369.6" y="287.6" fill="#f8c860"/><use href="#st" x="391.2" y="203.7" fill="#a0ec68"/><use href="#st" x="369.8" y="298.1" fill="#f8c860"/><use href="#st" x="407.1" y="202.1" fill="#a0ec68"/><use href="#st" x="338.1" y="128.0" fill="#a0ec68"/><use href="#st" x="317.0" y="246.6" fill="#f8c860"/><use href="#st" x="340.8" y="171.3" fill="#a0ec68"/><use href="#st" x="392.0" y="170.0" fill="#a0ec68"/><use href="#st" x="321.0" y="271.2" fill="#f8c860"/><use href="#st" x="409.5" y="213.4" fill="#a0ec68"/><use href="#st" x="359.2" y="156.7" fill="#a0ec68"/><use href="#st" x="391.9" y="150.0" fill="#a0ec68"/><use href="#st" x="402.0" y="195.5" fill="#a0ec68"/><use href="#st" x="340.3" y="163.0" fill="#a0ec68"/><use href="#st" x="350.9" y="185.6" fill="#a0ec68"/><use href="#st" x="368.6" y="156.9" fill="#a0ec68"/><use href="#st" x="395.5" y="162.1" fill="#a0ec68"/><use href="#st" x="370.2" y="259.8" fill="#f8c860"/><use href="#st" x="331.2" y="149.2" fill="#a0ec68"/><use href="#st" x="348.0" y="293.9" fill="#f8c860"/><use href="#st" x="407.8" y="192.3" fill="#a0ec68"/><use href="#st" x="381.4" y="122.3" fill="#a0ec68"/><use href="#st" x="347.1" y="178.5" fill="#a0ec68"/><use href="#st" x="325.2" y="268.8" fill="#f8c860"/>
</g>
<text transform="translate(97.2,82.6) scale(1,1.08)" text-anchor="end" font-size="11">4</text><text transform="translate(99.3,135.3) scale(1,1.08)" text-anchor="end" font-size="11">2</text><text transform="translate(101.1,186.4) scale(1,1.08)" text-anchor="end" font-size="11">0</text><text transform="translate(103.4,236.2) scale(1,1.08)" text-anchor="end" font-size="9">-2</text><text transform="translate(104.1,284.9) scale(1,1.08)" text-anchor="end" font-size="9">-4</text><text transform="matrix(1,-0.12,0.3,0.5,104.5,307.2)" text-anchor="middle" font-size="10.5">6</text><text transform="matrix(1,-0.12,0.3,0.5,118.6,324.3)" text-anchor="middle" font-size="10.5">4</text><text transform="matrix(1,-0.12,0.3,0.5,133.1,342.8)" text-anchor="middle" font-size="10.5">2</text><text transform="matrix(1,-0.12,0.3,0.5,149.3,363.3)" text-anchor="middle" font-size="10.5">0</text><text transform="matrix(1,-0.12,0.3,0.5,165.2,386.0)" text-anchor="middle" font-size="10.5">-2</text><text transform="matrix(1,-0.12,0.3,0.5,184.1,409.8)" text-anchor="middle" font-size="10.5">-4</text><text transform="matrix(0.16,0.42,-0.97,0.17,196.1,413.6)" text-anchor="middle" font-size="11">-10</text><text transform="matrix(0.16,0.42,-0.97,0.17,227.5,405.9)" text-anchor="middle" font-size="11">-8</text><text transform="matrix(0.16,0.42,-0.97,0.17,258.0,400.1)" text-anchor="middle" font-size="11">-6</text><text transform="matrix(0.16,0.42,-0.97,0.17,290.0,394.7)" text-anchor="middle" font-size="11">-4</text><text transform="matrix(0.16,0.42,-0.97,0.17,319.4,389.0)" text-anchor="middle" font-size="11">-2</text><text transform="matrix(0.16,0.42,-0.97,0.17,350.0,382.3)" text-anchor="middle" font-size="11">0</text><text transform="matrix(0.16,0.42,-0.97,0.17,378.0,378.0)" text-anchor="middle" font-size="11">2</text><text transform="matrix(0.16,0.42,-0.97,0.17,406.0,372.9)" text-anchor="middle" font-size="11">4</text><text transform="matrix(0.16,0.42,-0.97,0.17,435.3,367.8)" text-anchor="middle" font-size="11">6</text><text transform="matrix(0.16,0.42,-0.97,0.17,462.0,363.2)" text-anchor="middle" font-size="11">8</text><text transform="matrix(1.272,-0.218,0,1,284.5,410)" font-size="11.5">Canonical Variable 1</text><text transform="matrix(0.451,0.419,0,1,100.2,337.8)" font-size="11" stroke="#000" stroke-width="0.3">Canonical Variable 2</text>
<text transform="translate(73.4,121.4) rotate(87.6)" font-size="13.5">Canonical Variable 3</text>
<g font-size="12.9">
<circle cx="11" cy="433.3" r="5.2" fill="#8a8a8c" stroke="#1a1a1a" stroke-width="1.1"/><use href="#st" transform="translate(41,434.1) scale(1.45)" fill="#cacaca" stroke-width="0.9"/><text transform="translate(59.7,437.8) scale(1,1.08)">EVOOs</text><circle cx="121.7" cy="433.3" r="5.2" fill="#049c04" stroke="#1a1a1a" stroke-width="1.1"/><use href="#st" transform="translate(151.5,434.1) scale(1.45)" fill="#a0ec68" stroke-width="0.9"/><text transform="translate(170.2,437.8) scale(1,1.08)">Corn</text><circle cx="216.9" cy="433.3" r="5.2" fill="#ff860a" stroke="#1a1a1a" stroke-width="1.1"/><use href="#st" transform="translate(247.3,434.1) scale(1.45)" fill="#f8c860" stroke-width="0.9"/><text transform="translate(265.5,437.8) scale(1,1.08)">Pomace</text><circle cx="327.5" cy="433.3" r="5.2" fill="#f00008" stroke="#1a1a1a" stroke-width="1.1"/><use href="#st" transform="translate(357.3,434.1) scale(1.45)" fill="#f09898" stroke-width="0.9"/><text transform="translate(375.5,437.8) scale(1,1.08)">Soybean</text><circle cx="441.6" cy="433.3" r="5.2" fill="#a434f0" stroke="#1a1a1a" stroke-width="1.1"/><use href="#st" transform="translate(471.8,434.1) scale(1.45)" fill="#f0aaf8" stroke-width="0.9"/><text transform="translate(489.7,437.8) scale(1,1.08)">Sunflower</text>
</g>
<g font-size="12">
<text transform="translate(4.5,460.2) scale(1,1.08)">(Cross-validation: “circles”</text>
<text transform="translate(154,460.2) scale(1,1.08)">/</text>
<text transform="translate(167.3,460.2) scale(1,1.08)">External validation: “stars”)</text>
</g>
</svg>
</body></html>
